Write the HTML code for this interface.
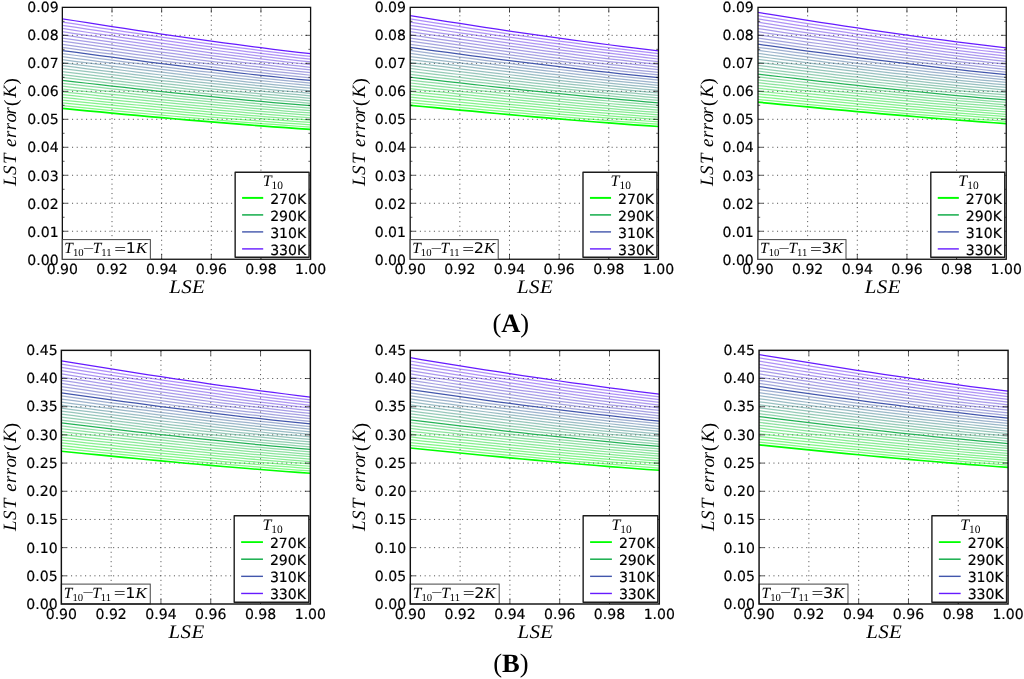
<!DOCTYPE html>
<html lang="en"><head><meta charset="utf-8"><title>LST error vs LSE</title>
<style>html,body{margin:0;padding:0;background:#fff;overflow:hidden;width:1024px;height:679px}svg{display:block}</style>
</head><body>
<svg width="1024" height="679" viewBox="0 0 1024 679" text-rendering="geometricPrecision">
<rect width="1024" height="679" fill="#fff"/>
<g>
<g stroke="#000" stroke-width="0.9" stroke-dasharray="1.1 3.577" fill="none" opacity="0.74"><path d="M112.00 259.25V7.35M161.65 259.25V7.35M211.30 259.25V7.35M260.95 259.25V7.35" stroke-dashoffset="0.3"/><path d="M62.35 231.26H310.60M62.35 203.27H310.60M62.35 175.28H310.60M62.35 147.29H310.60M62.35 119.31H310.60M62.35 91.32H310.60M62.35 63.33H310.60M62.35 35.34H310.60" stroke-dashoffset="-0.3"/></g>
<polyline points="62.35,105.71 74.76,106.92 87.17,108.13 99.59,109.32 112.00,110.51 124.41,111.68 136.82,112.85 149.24,114.00 161.65,115.13 174.06,116.25 186.47,117.35 198.89,118.43 211.30,119.50 223.71,120.54 236.12,121.56 248.54,122.55 260.95,123.52 273.36,124.46 285.78,125.37 298.19,126.25 310.60,127.10" stroke="#03f708" stroke-width="1.25" stroke-opacity="0.5" fill="none"/><polyline points="62.35,102.98 74.76,104.21 87.17,105.43 99.59,106.65 112.00,107.86 124.41,109.06 136.82,110.25 149.24,111.42 161.65,112.58 174.06,113.72 186.47,114.84 198.89,115.94 211.30,117.03 223.71,118.09 236.12,119.13 248.54,120.14 260.95,121.13 273.36,122.09 285.78,123.02 298.19,123.92 310.60,124.78" stroke="#07f011" stroke-width="1.25" stroke-opacity="0.5" fill="none"/><polyline points="62.35,100.22 74.76,101.47 87.17,102.73 99.59,103.97 112.00,105.20 124.41,106.42 136.82,107.63 149.24,108.82 161.65,110.00 174.06,111.17 186.47,112.31 198.89,113.44 211.30,114.54 223.71,115.62 236.12,116.68 248.54,117.71 260.95,118.72 273.36,119.70 285.78,120.65 298.19,121.57 310.60,122.45" stroke="#0ae81a" stroke-width="1.25" stroke-opacity="0.5" fill="none"/><polyline points="62.35,97.44 74.76,98.72 87.17,100.00 99.59,101.26 112.00,102.52 124.41,103.76 136.82,105.00 149.24,106.21 161.65,107.41 174.06,108.60 186.47,109.76 198.89,110.91 211.30,112.04 223.71,113.14 236.12,114.22 248.54,115.27 260.95,116.30 273.36,117.30 285.78,118.27 298.19,119.20 310.60,120.11" stroke="#0ee022" stroke-width="1.25" stroke-opacity="0.5" fill="none"/><polyline points="62.35,94.65 74.76,95.95 87.17,97.25 99.59,98.54 112.00,99.82 124.41,101.09 136.82,102.34 149.24,103.58 161.65,104.81 174.06,106.01 186.47,107.20 198.89,108.37 211.30,109.52 223.71,110.64 236.12,111.74 248.54,112.81 260.95,113.86 273.36,114.88 285.78,115.87 298.19,116.82 310.60,117.75" stroke="#11d82a" stroke-width="1.25" stroke-opacity="0.5" fill="none"/><polyline points="62.35,91.83 74.76,93.16 87.17,94.49 99.59,95.80 112.00,97.11 124.41,98.40 136.82,99.67 149.24,100.94 161.65,102.18 174.06,103.41 186.47,104.62 198.89,105.81 211.30,106.98 223.71,108.12 236.12,109.25 248.54,110.34 260.95,111.41 273.36,112.44 285.78,113.45 298.19,114.43 310.60,115.37" stroke="#14d133" stroke-width="1.25" stroke-opacity="0.5" fill="none"/><polyline points="62.35,89.00 74.76,90.36 87.17,91.71 99.59,93.04 112.00,94.37 124.41,95.69 136.82,96.99 149.24,98.27 161.65,99.54 174.06,100.79 186.47,102.03 198.89,103.24 211.30,104.43 223.71,105.59 236.12,106.73 248.54,107.85 260.95,108.94 273.36,109.99 285.78,111.02 298.19,112.02 310.60,112.98" stroke="#18c93b" stroke-width="1.25" stroke-opacity="0.5" fill="none"/><polyline points="62.35,86.15 74.76,87.53 87.17,88.91 99.59,90.27 112.00,91.62 124.41,92.96 136.82,94.28 149.24,95.59 161.65,96.88 174.06,98.16 186.47,99.41 198.89,100.65 211.30,101.86 223.71,103.04 236.12,104.21 248.54,105.34 260.95,106.45 273.36,107.53 285.78,108.58 298.19,109.59 310.60,110.58" stroke="#1bc144" stroke-width="1.25" stroke-opacity="0.5" fill="none"/><polyline points="62.35,83.28 74.76,84.69 87.17,86.09 99.59,87.48 112.00,88.85 124.41,90.21 136.82,91.56 149.24,92.89 161.65,94.21 174.06,95.51 186.47,96.78 198.89,98.04 211.30,99.27 223.71,100.48 236.12,101.66 248.54,102.82 260.95,103.95 273.36,105.05 285.78,106.12 298.19,107.15 310.60,108.15" stroke="#1fba4c" stroke-width="1.25" stroke-opacity="0.5" fill="none"/><polyline points="62.35,77.49 74.76,78.95 87.17,80.40 99.59,81.83 112.00,83.26 124.41,84.67 136.82,86.07 149.24,87.45 161.65,88.81 174.06,90.15 186.47,91.47 198.89,92.77 211.30,94.05 223.71,95.30 236.12,96.53 248.54,97.73 260.95,98.90 273.36,100.04 285.78,101.14 298.19,102.22 310.60,103.26" stroke="#25a95e" stroke-width="1.25" stroke-opacity="0.5" fill="none"/><polyline points="62.35,74.57 74.76,76.05 87.17,77.52 99.59,78.99 112.00,80.44 124.41,81.87 136.82,83.29 149.24,84.69 161.65,86.08 174.06,87.45 186.47,88.79 198.89,90.11 211.30,91.41 223.71,92.69 236.12,93.93 248.54,95.15 260.95,96.35 273.36,97.51 285.78,98.64 298.19,99.73 310.60,100.79" stroke="#28a066" stroke-width="1.25" stroke-opacity="0.5" fill="none"/><polyline points="62.35,71.62 74.76,73.13 87.17,74.63 99.59,76.12 112.00,77.60 124.41,79.06 136.82,80.50 149.24,81.93 161.65,83.34 174.06,84.72 186.47,86.09 198.89,87.44 211.30,88.76 223.71,90.05 236.12,91.32 248.54,92.57 260.95,93.78 273.36,94.96 285.78,96.11 298.19,97.23 310.60,98.31" stroke="#2c966f" stroke-width="1.25" stroke-opacity="0.5" fill="none"/><polyline points="62.35,68.66 74.76,70.20 87.17,71.72 99.59,73.24 112.00,74.74 124.41,76.22 136.82,77.69 149.24,79.14 161.65,80.57 174.06,81.99 186.47,83.38 198.89,84.75 211.30,86.09 223.71,87.41 236.12,88.70 248.54,89.96 260.95,91.20 273.36,92.40 285.78,93.57 298.19,94.71 310.60,95.81" stroke="#2f8d78" stroke-width="1.25" stroke-opacity="0.5" fill="none"/><polyline points="62.35,65.68 74.76,67.24 87.17,68.80 99.59,70.34 112.00,71.86 124.41,73.37 136.82,74.86 149.24,76.34 161.65,77.80 174.06,79.23 186.47,80.65 198.89,82.04 211.30,83.40 223.71,84.74 236.12,86.06 248.54,87.34 260.95,88.60 273.36,89.82 285.78,91.01 298.19,92.17 310.60,93.29" stroke="#328480" stroke-width="1.25" stroke-opacity="0.5" fill="none"/><polyline points="62.35,62.68 74.76,64.27 87.17,65.85 99.59,67.42 112.00,68.97 124.41,70.50 136.82,72.02 149.24,73.52 161.65,75.00 174.06,76.46 186.47,77.90 198.89,79.31 211.30,80.70 223.71,82.06 236.12,83.40 248.54,84.71 260.95,85.98 273.36,87.23 285.78,88.44 298.19,89.62 310.60,90.76" stroke="#357b89" stroke-width="1.25" stroke-opacity="0.5" fill="none"/><polyline points="62.35,59.67 74.76,61.28 87.17,62.89 99.59,64.48 112.00,66.05 124.41,67.61 136.82,69.16 149.24,70.68 161.65,72.19 174.06,73.67 186.47,75.13 198.89,76.57 211.30,77.98 223.71,79.37 236.12,80.73 248.54,82.05 260.95,83.35 273.36,84.62 285.78,85.85 298.19,87.05 310.60,88.22" stroke="#387292" stroke-width="1.25" stroke-opacity="0.5" fill="none"/><polyline points="62.35,56.63 74.76,58.27 87.17,59.91 99.59,61.52 112.00,63.12 124.41,64.71 136.82,66.28 149.24,67.83 161.65,69.36 174.06,70.86 186.47,72.35 198.89,73.81 211.30,75.25 223.71,76.65 236.12,78.03 248.54,79.39 260.95,80.71 273.36,82.00 285.78,83.25 298.19,84.47 310.60,85.66" stroke="#3c689b" stroke-width="1.25" stroke-opacity="0.5" fill="none"/><polyline points="62.35,53.58 74.76,55.25 87.17,56.91 99.59,58.55 112.00,60.18 124.41,61.79 136.82,63.38 149.24,64.96 161.65,66.51 174.06,68.04 186.47,69.55 198.89,71.03 211.30,72.49 223.71,73.92 236.12,75.33 248.54,76.70 260.95,78.04 273.36,79.35 285.78,80.63 298.19,81.87 310.60,83.08" stroke="#3f5fa3" stroke-width="1.25" stroke-opacity="0.5" fill="none"/><polyline points="62.35,47.41 74.76,49.14 87.17,50.85 99.59,52.55 112.00,54.23 124.41,55.89 136.82,57.54 149.24,59.16 161.65,60.76 174.06,62.34 186.47,63.90 198.89,65.43 211.30,66.94 223.71,68.42 236.12,69.87 248.54,71.28 260.95,72.67 273.36,74.03 285.78,75.35 298.19,76.63 310.60,77.88" stroke="#4650b4" stroke-width="1.25" stroke-opacity="0.5" fill="none"/><polyline points="62.35,44.31 74.76,46.06 87.17,47.80 99.59,49.52 112.00,51.23 124.41,52.92 136.82,54.59 149.24,56.24 161.65,57.86 174.06,59.47 186.47,61.05 198.89,62.61 211.30,64.14 223.71,65.64 236.12,67.11 248.54,68.55 260.95,69.96 273.36,71.34 285.78,72.68 298.19,73.98 310.60,75.25" stroke="#494abd" stroke-width="1.25" stroke-opacity="0.5" fill="none"/><polyline points="62.35,41.18 74.76,42.96 87.17,44.72 99.59,46.47 112.00,48.21 124.41,49.92 136.82,51.62 149.24,53.29 161.65,54.95 174.06,56.58 186.47,58.18 198.89,59.76 211.30,61.32 223.71,62.84 236.12,64.34 248.54,65.80 260.95,67.23 273.36,68.63 285.78,70.00 298.19,71.32 310.60,72.61" stroke="#4d44c5" stroke-width="1.25" stroke-opacity="0.5" fill="none"/><polyline points="62.35,38.03 74.76,39.84 87.17,41.63 99.59,43.41 112.00,45.17 124.41,46.91 136.82,48.64 149.24,50.34 161.65,52.01 174.06,53.67 186.47,55.30 198.89,56.90 211.30,58.48 223.71,60.03 236.12,61.55 248.54,63.04 260.95,64.49 273.36,65.91 285.78,67.30 298.19,68.65 310.60,69.96" stroke="#503ecd" stroke-width="1.25" stroke-opacity="0.5" fill="none"/><polyline points="62.35,34.87 74.76,36.70 87.17,38.52 99.59,40.33 112.00,42.12 124.41,43.89 136.82,45.63 149.24,47.36 161.65,49.06 174.06,50.74 186.47,52.40 198.89,54.03 211.30,55.63 223.71,57.20 236.12,58.74 248.54,60.25 260.95,61.73 273.36,63.18 285.78,64.58 298.19,65.96 310.60,67.29" stroke="#5438d6" stroke-width="1.25" stroke-opacity="0.5" fill="none"/><polyline points="62.35,31.68 74.76,33.55 87.17,35.40 99.59,37.23 112.00,39.04 124.41,40.84 136.82,42.61 149.24,44.37 161.65,46.10 174.06,47.80 186.47,49.48 198.89,51.14 211.30,52.76 223.71,54.36 236.12,55.92 248.54,57.46 260.95,58.96 273.36,60.42 285.78,61.85 298.19,63.25 310.60,64.60" stroke="#5832de" stroke-width="1.25" stroke-opacity="0.5" fill="none"/><polyline points="62.35,28.48 74.76,30.37 87.17,32.25 99.59,34.11 112.00,35.95 124.41,37.78 136.82,39.58 149.24,41.36 161.65,43.11 174.06,44.84 186.47,46.55 198.89,48.23 211.30,49.88 223.71,51.50 236.12,53.09 248.54,54.64 260.95,56.17 273.36,57.66 285.78,59.11 298.19,60.52 310.60,61.90" stroke="#5b2ce6" stroke-width="1.25" stroke-opacity="0.5" fill="none"/><polyline points="62.35,25.26 74.76,27.18 87.17,29.09 99.59,30.98 112.00,32.85 124.41,34.70 136.82,36.52 149.24,38.33 161.65,40.11 174.06,41.87 186.47,43.60 198.89,45.30 211.30,46.97 223.71,48.62 236.12,50.23 248.54,51.81 260.95,53.36 273.36,54.87 285.78,56.35 298.19,57.79 310.60,59.19" stroke="#5f26ee" stroke-width="1.25" stroke-opacity="0.5" fill="none"/><polyline points="62.35,22.02 74.76,23.97 87.17,25.91 99.59,27.82 112.00,29.72 124.41,31.60 136.82,33.45 149.24,35.28 161.65,37.09 174.06,38.87 186.47,40.63 198.89,42.36 211.30,44.06 223.71,45.72 236.12,47.36 248.54,48.97 260.95,50.54 273.36,52.07 285.78,53.57 298.19,55.03 310.60,56.45" stroke="#6220f7" stroke-width="1.25" stroke-opacity="0.5" fill="none"/>
<polyline points="62.35,108.44 74.76,109.62 87.17,110.80 99.59,111.97 112.00,113.13 124.41,114.29 136.82,115.43 149.24,116.55 161.65,117.67 174.06,118.77 186.47,119.85 198.89,120.91 211.30,121.95 223.71,122.97 236.12,123.97 248.54,124.94 260.95,125.89 273.36,126.81 285.78,127.70 298.19,128.56 310.60,129.40" stroke="#00ff00" stroke-width="1.7" fill="none"/><polyline points="62.35,80.40 74.76,81.83 87.17,83.25 99.59,84.66 112.00,86.06 124.41,87.45 136.82,88.82 149.24,90.18 161.65,91.52 174.06,92.84 186.47,94.14 198.89,95.41 211.30,96.67 223.71,97.90 236.12,99.10 248.54,100.28 260.95,101.43 273.36,102.55 285.78,103.64 298.19,104.69 310.60,105.72" stroke="#22b255" stroke-width="1.25" fill="none"/><polyline points="62.35,50.51 74.76,52.20 87.17,53.89 99.59,55.56 112.00,57.21 124.41,58.85 136.82,60.47 149.24,62.07 161.65,63.64 174.06,65.20 186.47,66.73 198.89,68.24 211.30,69.72 223.71,71.18 236.12,72.60 248.54,74.00 260.95,75.37 273.36,76.70 285.78,78.00 298.19,79.26 310.60,80.49" stroke="#4256ac" stroke-width="1.25" fill="none"/><polyline points="62.35,18.77 74.76,20.75 87.17,22.71 99.59,24.65 112.00,26.58 124.41,28.48 136.82,30.36 149.24,32.22 161.65,34.05 174.06,35.86 186.47,37.64 198.89,39.40 211.30,41.12 223.71,42.81 236.12,44.48 248.54,46.10 260.95,47.70 273.36,49.26 285.78,50.78 298.19,52.26 310.60,53.70" stroke="#661aff" stroke-width="1.25" fill="none"/>
<path d="M112.00 259.25v-5.3M112.00 7.35v5.3M161.65 259.25v-5.3M161.65 7.35v5.3M211.30 259.25v-5.3M211.30 7.35v5.3M260.95 259.25v-5.3M260.95 7.35v5.3M62.35 231.26h5.3M310.60 231.26h-5.3M62.35 203.27h5.3M310.60 203.27h-5.3M62.35 175.28h5.3M310.60 175.28h-5.3M62.35 147.29h5.3M310.60 147.29h-5.3M62.35 119.31h5.3M310.60 119.31h-5.3M62.35 91.32h5.3M310.60 91.32h-5.3M62.35 63.33h5.3M310.60 63.33h-5.3M62.35 35.34h5.3M310.60 35.34h-5.3M62.35 245.26h2.2M310.60 245.26h-2.2M62.35 217.27h2.2M310.60 217.27h-2.2M62.35 189.28h2.2M310.60 189.28h-2.2M62.35 161.29h2.2M310.60 161.29h-2.2M62.35 133.30h2.2M310.60 133.30h-2.2M62.35 105.31h2.2M310.60 105.31h-2.2M62.35 77.32h2.2M310.60 77.32h-2.2M62.35 49.33h2.2M310.60 49.33h-2.2M62.35 21.34h2.2M310.60 21.34h-2.2" stroke="#000" stroke-width="0.65" fill="none"/>
<rect x="62.35" y="7.35" width="248.25" height="251.90" fill="none" stroke="#111" stroke-width="1.3"/>
<g font-family="'DejaVu Sans','Liberation Sans',sans-serif" font-size="14.05" fill="#000" stroke="#000" stroke-width="0.18">
<text x="58.60" y="264.65" text-anchor="end">0.00</text>
<text x="58.60" y="236.60" text-anchor="end">0.01</text>
<text x="58.60" y="208.55" text-anchor="end">0.02</text>
<text x="58.60" y="180.50" text-anchor="end">0.03</text>
<text x="58.60" y="152.45" text-anchor="end">0.04</text>
<text x="58.60" y="124.40" text-anchor="end">0.05</text>
<text x="58.60" y="96.35" text-anchor="end">0.06</text>
<text x="58.60" y="68.30" text-anchor="end">0.07</text>
<text x="58.60" y="40.25" text-anchor="end">0.08</text>
<text x="58.60" y="12.20" text-anchor="end">0.09</text>
<text x="62.35" y="274.30" text-anchor="middle">0.90</text>
<text x="112.00" y="274.30" text-anchor="middle">0.92</text>
<text x="161.65" y="274.30" text-anchor="middle">0.94</text>
<text x="211.30" y="274.30" text-anchor="middle">0.96</text>
<text x="260.95" y="274.30" text-anchor="middle">0.98</text>
<text x="310.60" y="274.30" text-anchor="middle">1.00</text>
</g>
<text transform="translate(187.17 293.40) scale(1.085 1)" text-anchor="middle" font-family="'Liberation Serif','DejaVu Serif',serif" font-style="italic" font-size="19.3" letter-spacing="0.35">LSE</text>
<text transform="translate(16.15 186.00) rotate(-90)" font-family="'Liberation Serif','DejaVu Serif',serif" font-style="italic" font-size="18.8"><tspan x="0 11 22">LST</tspan> <tspan x="39.1 47.9 55.7 63.5 71.6">error</tspan><tspan x="79.9" dy="1.2" font-style="normal">(</tspan><tspan x="88.3" dy="-1.2">K</tspan><tspan x="101.6" dy="1.2" font-style="normal">)</tspan></text>
<rect x="62.35" y="239.60" width="88.0" height="19.65" fill="#fff" stroke="#444" stroke-width="1.0"/>
<text x="64.35" y="253.00" font-family="'Liberation Serif','DejaVu Serif',serif" font-style="italic" font-size="15.5">T<tspan font-style="normal" font-size="10.7" dy="3.4">10</tspan><tspan font-style="normal" font-family="'DejaVu Sans Light','DejaVu Sans',sans-serif" font-weight="200" font-size="15" dy="-3.7" dx="-1.5">−</tspan><tspan dx="-2.0" dy="0.3">T</tspan><tspan font-style="normal" font-size="10.7" dy="3.4">11</tspan></text>
<text transform="translate(120.25 253.60) scale(1.4 1)" text-anchor="middle" font-family="'Liberation Serif','DejaVu Serif',serif" font-size="15">=</text>
<text transform="translate(125.85 253.00) scale(1.1 1)" font-family="'DejaVu Sans','Liberation Sans',sans-serif" font-size="14.6">1</text>
<text transform="translate(135.85 253.00) scale(1.13 1)" font-family="'Liberation Serif','DejaVu Serif',serif" font-style="italic" font-size="15.2">K</text>
<rect x="235.15" y="172.20" width="73.95" height="85.10" fill="#fff" stroke="#1c1c1c" stroke-width="1.4" stroke-linejoin="round"/>
<text x="262.70" y="185.80" font-family="'Liberation Serif','DejaVu Serif',serif" font-style="italic" font-size="16">T<tspan font-style="normal" font-size="11.4" dy="3.4">10</tspan></text>
<path d="M242.10 197.90H263.20" stroke="#00ff00" stroke-width="1.95"/>
<text x="270.20" y="203.65" font-family="'DejaVu Sans','Liberation Sans',sans-serif" font-size="14.05" stroke="#000" stroke-width="0.18">270K</text>
<path d="M242.10 214.90H263.20" stroke="#22b255" stroke-width="1.6"/>
<text x="270.20" y="220.65" font-family="'DejaVu Sans','Liberation Sans',sans-serif" font-size="14.05" stroke="#000" stroke-width="0.18">290K</text>
<path d="M242.10 231.90H263.20" stroke="#4256ac" stroke-width="1.4"/>
<text x="270.20" y="237.65" font-family="'DejaVu Sans','Liberation Sans',sans-serif" font-size="14.05" stroke="#000" stroke-width="0.18">310K</text>
<path d="M242.10 248.90H263.20" stroke="#661aff" stroke-width="1.4"/>
<text x="270.20" y="254.65" font-family="'DejaVu Sans','Liberation Sans',sans-serif" font-size="14.05" stroke="#000" stroke-width="0.18">330K</text>
</g>
<g>
<g stroke="#000" stroke-width="0.9" stroke-dasharray="1.1 3.577" fill="none" opacity="0.74"><path d="M459.85 259.25V7.35M509.50 259.25V7.35M559.15 259.25V7.35M608.80 259.25V7.35" stroke-dashoffset="0.3"/><path d="M410.20 231.26H658.45M410.20 203.27H658.45M410.20 175.28H658.45M410.20 147.29H658.45M410.20 119.31H658.45M410.20 91.32H658.45M410.20 63.33H658.45M410.20 35.34H658.45" stroke-dashoffset="-0.3"/></g>
<polyline points="410.20,102.56 422.61,103.79 435.02,105.00 447.44,106.21 459.85,107.41 472.26,108.60 484.67,109.77 497.09,110.94 509.50,112.08 521.91,113.22 534.33,114.33 546.74,115.43 559.15,116.50 571.56,117.55 583.98,118.58 596.39,119.59 608.80,120.57 621.21,121.52 633.62,122.44 646.04,123.34 658.45,124.20" stroke="#03f708" stroke-width="1.25" stroke-opacity="0.5" fill="none"/><polyline points="410.20,99.83 422.61,101.07 435.02,102.31 447.44,103.54 459.85,104.76 472.26,105.98 484.67,107.17 497.09,108.36 509.50,109.53 521.91,110.68 534.33,111.82 546.74,112.94 559.15,114.03 571.56,115.10 583.98,116.16 596.39,117.18 608.80,118.18 621.21,119.15 633.62,120.09 646.04,121.00 658.45,121.88" stroke="#07f011" stroke-width="1.25" stroke-opacity="0.5" fill="none"/><polyline points="410.20,97.07 422.61,98.34 435.02,99.60 447.44,100.86 459.85,102.10 472.26,103.34 484.67,104.56 497.09,105.77 509.50,106.96 521.91,108.13 534.33,109.29 546.74,110.43 559.15,111.54 571.56,112.64 583.98,113.71 596.39,114.75 608.80,115.77 621.21,116.76 633.62,117.73 646.04,118.66 658.45,119.55" stroke="#0ae81a" stroke-width="1.25" stroke-opacity="0.5" fill="none"/><polyline points="410.20,94.29 422.61,95.59 435.02,96.87 447.44,98.15 459.85,99.42 472.26,100.68 484.67,101.92 497.09,103.15 509.50,104.37 521.91,105.57 534.33,106.74 546.74,107.90 559.15,109.04 571.56,110.16 583.98,111.25 596.39,112.31 608.80,113.35 621.21,114.36 633.62,115.34 646.04,116.29 658.45,117.21" stroke="#0ee022" stroke-width="1.25" stroke-opacity="0.5" fill="none"/><polyline points="410.20,91.50 422.61,92.82 435.02,94.13 447.44,95.43 459.85,96.72 472.26,98.00 484.67,99.27 497.09,100.52 509.50,101.76 521.91,102.98 534.33,104.18 546.74,105.36 559.15,106.52 571.56,107.66 583.98,108.77 596.39,109.85 608.80,110.91 621.21,111.94 633.62,112.94 646.04,113.91 658.45,114.85" stroke="#11d82a" stroke-width="1.25" stroke-opacity="0.5" fill="none"/><polyline points="410.20,88.68 422.61,90.03 435.02,91.36 447.44,92.69 459.85,94.01 472.26,95.31 484.67,96.60 497.09,97.88 509.50,99.14 521.91,100.38 534.33,101.60 546.74,102.80 559.15,103.98 571.56,105.14 583.98,106.27 596.39,107.38 608.80,108.46 621.21,109.51 633.62,110.53 646.04,111.52 658.45,112.47" stroke="#14d133" stroke-width="1.25" stroke-opacity="0.5" fill="none"/><polyline points="410.20,85.85 422.61,87.22 435.02,88.58 447.44,89.93 459.85,91.27 472.26,92.60 484.67,93.92 497.09,95.21 509.50,96.50 521.91,97.76 534.33,99.01 546.74,100.23 559.15,101.43 571.56,102.61 583.98,103.76 596.39,104.89 608.80,105.99 621.21,107.06 633.62,108.10 646.04,109.11 658.45,110.08" stroke="#18c93b" stroke-width="1.25" stroke-opacity="0.5" fill="none"/><polyline points="410.20,83.00 422.61,84.40 435.02,85.78 447.44,87.16 459.85,88.52 472.26,89.87 484.67,91.21 497.09,92.53 509.50,93.84 521.91,95.12 534.33,96.39 546.74,97.64 559.15,98.86 571.56,100.06 583.98,101.23 596.39,102.38 608.80,103.50 621.21,104.59 633.62,105.65 646.04,106.68 658.45,107.68" stroke="#1bc144" stroke-width="1.25" stroke-opacity="0.5" fill="none"/><polyline points="410.20,80.13 422.61,81.55 435.02,82.96 447.44,84.37 459.85,85.75 472.26,87.13 484.67,88.49 497.09,89.84 509.50,91.16 521.91,92.47 534.33,93.76 546.74,95.03 559.15,96.27 571.56,97.50 583.98,98.69 596.39,99.86 608.80,101.00 621.21,102.11 633.62,103.19 646.04,104.24 658.45,105.25" stroke="#1fba4c" stroke-width="1.25" stroke-opacity="0.5" fill="none"/><polyline points="410.20,74.34 422.61,75.81 435.02,77.27 447.44,78.72 459.85,80.16 472.26,81.59 484.67,82.99 497.09,84.39 509.50,85.76 521.91,87.12 534.33,88.45 546.74,89.76 559.15,91.05 571.56,92.32 583.98,93.55 596.39,94.77 608.80,95.95 621.21,97.10 633.62,98.22 646.04,99.31 658.45,100.36" stroke="#25a95e" stroke-width="1.25" stroke-opacity="0.5" fill="none"/><polyline points="410.20,71.42 422.61,72.91 435.02,74.40 447.44,75.88 459.85,77.34 472.26,78.79 484.67,80.22 497.09,81.64 509.50,83.03 521.91,84.41 534.33,85.77 546.74,87.10 559.15,88.42 571.56,89.70 583.98,90.96 596.39,92.19 608.80,93.40 621.21,94.57 633.62,95.71 646.04,96.82 658.45,97.89" stroke="#28a066" stroke-width="1.25" stroke-opacity="0.5" fill="none"/><polyline points="410.20,68.47 422.61,70.00 435.02,71.51 447.44,73.01 459.85,74.50 472.26,75.97 484.67,77.43 497.09,78.87 509.50,80.29 521.91,81.69 534.33,83.07 546.74,84.43 559.15,85.76 571.56,87.07 583.98,88.35 596.39,89.61 608.80,90.83 621.21,92.03 633.62,93.19 646.04,94.32 658.45,95.41" stroke="#2c966f" stroke-width="1.25" stroke-opacity="0.5" fill="none"/><polyline points="410.20,65.51 422.61,67.06 435.02,68.60 447.44,70.13 459.85,71.64 472.26,73.14 484.67,74.62 497.09,76.08 509.50,77.53 521.91,78.95 534.33,80.36 546.74,81.74 559.15,83.09 571.56,84.42 583.98,85.73 596.39,87.00 608.80,88.25 621.21,89.46 633.62,90.65 646.04,91.80 658.45,92.91" stroke="#2f8d78" stroke-width="1.25" stroke-opacity="0.5" fill="none"/><polyline points="410.20,62.53 422.61,64.11 435.02,65.67 447.44,67.23 459.85,68.76 472.26,70.29 484.67,71.79 497.09,73.28 509.50,74.75 521.91,76.20 534.33,77.62 546.74,79.03 559.15,80.41 571.56,81.76 583.98,83.09 596.39,84.38 608.80,85.65 621.21,86.89 633.62,88.09 646.04,89.26 658.45,90.39" stroke="#328480" stroke-width="1.25" stroke-opacity="0.5" fill="none"/><polyline points="410.20,59.53 422.61,61.14 435.02,62.73 447.44,64.31 459.85,65.87 472.26,67.42 484.67,68.95 497.09,70.46 509.50,71.95 521.91,73.43 534.33,74.88 546.74,76.30 559.15,77.70 571.56,79.08 583.98,80.43 596.39,81.75 608.80,83.04 621.21,84.29 633.62,85.52 646.04,86.71 658.45,87.86" stroke="#357b89" stroke-width="1.25" stroke-opacity="0.5" fill="none"/><polyline points="410.20,56.52 422.61,58.15 435.02,59.76 447.44,61.37 459.85,62.96 472.26,64.53 484.67,66.09 497.09,67.62 509.50,69.14 521.91,70.64 534.33,72.11 546.74,73.56 559.15,74.99 571.56,76.38 583.98,77.75 596.39,79.10 608.80,80.41 621.21,81.68 633.62,82.93 646.04,84.14 658.45,85.32" stroke="#387292" stroke-width="1.25" stroke-opacity="0.5" fill="none"/><polyline points="410.20,53.48 422.61,55.14 435.02,56.78 447.44,58.41 459.85,60.03 472.26,61.63 484.67,63.21 497.09,64.77 509.50,66.31 521.91,67.83 534.33,69.33 546.74,70.80 559.15,72.25 571.56,73.67 583.98,75.06 596.39,76.43 608.80,77.76 621.21,79.06 633.62,80.33 646.04,81.56 658.45,82.76" stroke="#3c689b" stroke-width="1.25" stroke-opacity="0.5" fill="none"/><polyline points="410.20,50.43 422.61,52.11 435.02,53.78 447.44,55.44 459.85,57.08 472.26,58.70 484.67,60.31 497.09,61.90 509.50,63.46 521.91,65.01 534.33,66.53 546.74,68.03 559.15,69.50 571.56,70.94 583.98,72.36 596.39,73.74 608.80,75.10 621.21,76.42 633.62,77.71 646.04,78.96 658.45,80.18" stroke="#3f5fa3" stroke-width="1.25" stroke-opacity="0.5" fill="none"/><polyline points="410.20,44.26 422.61,46.00 435.02,47.73 447.44,49.44 459.85,51.13 472.26,52.81 484.67,54.46 497.09,56.10 509.50,57.72 521.91,59.31 534.33,60.88 546.74,62.42 559.15,63.94 571.56,65.43 583.98,66.89 596.39,68.32 608.80,69.72 621.21,71.09 633.62,72.42 646.04,73.72 658.45,74.98" stroke="#4650b4" stroke-width="1.25" stroke-opacity="0.5" fill="none"/><polyline points="410.20,41.16 422.61,42.92 435.02,44.67 447.44,46.41 459.85,48.13 472.26,49.83 484.67,51.51 497.09,53.18 509.50,54.82 521.91,56.44 534.33,58.03 546.74,59.60 559.15,61.14 571.56,62.65 583.98,64.14 596.39,65.59 608.80,67.01 621.21,68.40 633.62,69.76 646.04,71.07 658.45,72.35" stroke="#494abd" stroke-width="1.25" stroke-opacity="0.5" fill="none"/><polyline points="410.20,38.03 422.61,39.82 435.02,41.60 447.44,43.36 459.85,45.11 472.26,46.84 484.67,48.55 497.09,50.24 509.50,51.90 521.91,53.54 534.33,55.16 546.74,56.76 559.15,58.32 571.56,59.86 583.98,61.37 596.39,62.84 608.80,64.29 621.21,65.70 633.62,67.07 646.04,68.41 658.45,69.71" stroke="#4d44c5" stroke-width="1.25" stroke-opacity="0.5" fill="none"/><polyline points="410.20,34.88 422.61,36.70 435.02,38.51 447.44,40.30 459.85,42.07 472.26,43.83 484.67,45.56 497.09,47.28 509.50,48.97 521.91,50.64 534.33,52.28 546.74,53.90 559.15,55.49 571.56,57.05 583.98,58.58 596.39,60.08 608.80,61.54 621.21,62.98 633.62,64.37 646.04,65.74 658.45,67.06" stroke="#503ecd" stroke-width="1.25" stroke-opacity="0.5" fill="none"/><polyline points="410.20,31.72 422.61,33.57 435.02,35.40 447.44,37.22 459.85,39.02 472.26,40.80 484.67,42.56 497.09,44.30 509.50,46.02 521.91,47.71 534.33,49.38 546.74,51.02 559.15,52.63 571.56,54.22 583.98,55.77 596.39,57.30 608.80,58.79 621.21,60.24 633.62,61.66 646.04,63.04 658.45,64.39" stroke="#5438d6" stroke-width="1.25" stroke-opacity="0.5" fill="none"/><polyline points="410.20,28.53 422.61,30.41 435.02,32.27 447.44,34.12 459.85,35.95 472.26,37.75 484.67,39.54 497.09,41.31 509.50,43.05 521.91,44.77 534.33,46.46 546.74,48.13 559.15,49.77 571.56,51.37 583.98,52.95 596.39,54.50 608.80,56.01 621.21,57.49 633.62,58.93 646.04,60.34 658.45,61.70" stroke="#5832de" stroke-width="1.25" stroke-opacity="0.5" fill="none"/><polyline points="410.20,25.33 422.61,27.24 435.02,29.13 447.44,31.00 459.85,32.86 472.26,34.69 484.67,36.51 497.09,38.30 509.50,40.07 521.91,41.81 534.33,43.53 546.74,45.22 559.15,46.88 571.56,48.51 583.98,50.11 596.39,51.68 608.80,53.22 621.21,54.72 633.62,56.19 646.04,57.61 658.45,59.00" stroke="#5b2ce6" stroke-width="1.25" stroke-opacity="0.5" fill="none"/><polyline points="410.20,22.11 422.61,24.05 435.02,25.97 447.44,27.87 459.85,29.75 472.26,31.61 484.67,33.45 497.09,35.27 509.50,37.06 521.91,38.83 534.33,40.58 546.74,42.29 559.15,43.98 571.56,45.63 583.98,47.26 596.39,48.85 608.80,50.41 621.21,51.94 633.62,53.42 646.04,54.87 658.45,56.29" stroke="#5f26ee" stroke-width="1.25" stroke-opacity="0.5" fill="none"/><polyline points="410.20,18.87 422.61,20.84 435.02,22.78 447.44,24.71 459.85,26.62 472.26,28.51 484.67,30.38 497.09,32.22 509.50,34.04 521.91,35.84 534.33,37.61 546.74,39.35 559.15,41.06 571.56,42.74 583.98,44.39 596.39,46.01 608.80,47.59 621.21,49.14 633.62,50.65 646.04,52.12 658.45,53.55" stroke="#6220f7" stroke-width="1.25" stroke-opacity="0.5" fill="none"/>
<polyline points="410.20,105.29 422.61,106.48 435.02,107.68 447.44,108.86 459.85,110.04 472.26,111.20 484.67,112.36 497.09,113.50 509.50,114.62 521.91,115.73 534.33,116.83 546.74,117.90 559.15,118.96 571.56,119.99 583.98,121.00 596.39,121.98 608.80,122.94 621.21,123.88 633.62,124.78 646.04,125.65 658.45,126.50" stroke="#00ff00" stroke-width="1.7" fill="none"/><polyline points="410.20,77.25 422.61,78.69 435.02,80.13 447.44,81.55 459.85,82.97 472.26,84.37 484.67,85.75 497.09,87.12 509.50,88.47 521.91,89.80 534.33,91.11 546.74,92.40 559.15,93.67 571.56,94.91 583.98,96.13 596.39,97.32 608.80,98.48 621.21,99.61 633.62,100.71 646.04,101.78 658.45,102.82" stroke="#22b255" stroke-width="1.25" fill="none"/><polyline points="410.20,47.36 422.61,49.07 435.02,50.76 447.44,52.45 459.85,54.11 472.26,55.76 484.67,57.40 497.09,59.01 509.50,60.60 521.91,62.17 534.33,63.71 546.74,65.23 559.15,66.73 571.56,68.19 583.98,69.63 596.39,71.04 608.80,72.42 621.21,73.76 633.62,75.07 646.04,76.35 658.45,77.59" stroke="#4256ac" stroke-width="1.25" fill="none"/><polyline points="410.20,15.62 422.61,17.61 435.02,19.58 447.44,21.54 459.85,23.48 472.26,25.40 484.67,27.29 497.09,29.16 509.50,31.01 521.91,32.83 534.33,34.62 546.74,36.39 559.15,38.12 571.56,39.83 583.98,41.50 596.39,43.14 608.80,44.75 621.21,46.32 633.62,47.85 646.04,49.35 658.45,50.81" stroke="#661aff" stroke-width="1.25" fill="none"/>
<path d="M459.85 259.25v-5.3M459.85 7.35v5.3M509.50 259.25v-5.3M509.50 7.35v5.3M559.15 259.25v-5.3M559.15 7.35v5.3M608.80 259.25v-5.3M608.80 7.35v5.3M410.20 231.26h5.3M658.45 231.26h-5.3M410.20 203.27h5.3M658.45 203.27h-5.3M410.20 175.28h5.3M658.45 175.28h-5.3M410.20 147.29h5.3M658.45 147.29h-5.3M410.20 119.31h5.3M658.45 119.31h-5.3M410.20 91.32h5.3M658.45 91.32h-5.3M410.20 63.33h5.3M658.45 63.33h-5.3M410.20 35.34h5.3M658.45 35.34h-5.3M410.20 245.26h2.2M658.45 245.26h-2.2M410.20 217.27h2.2M658.45 217.27h-2.2M410.20 189.28h2.2M658.45 189.28h-2.2M410.20 161.29h2.2M658.45 161.29h-2.2M410.20 133.30h2.2M658.45 133.30h-2.2M410.20 105.31h2.2M658.45 105.31h-2.2M410.20 77.32h2.2M658.45 77.32h-2.2M410.20 49.33h2.2M658.45 49.33h-2.2M410.20 21.34h2.2M658.45 21.34h-2.2" stroke="#000" stroke-width="0.65" fill="none"/>
<rect x="410.20" y="7.35" width="248.25" height="251.90" fill="none" stroke="#111" stroke-width="1.3"/>
<g font-family="'DejaVu Sans','Liberation Sans',sans-serif" font-size="14.05" fill="#000" stroke="#000" stroke-width="0.18">
<text x="406.00" y="264.65" text-anchor="end">0.00</text>
<text x="406.00" y="236.60" text-anchor="end">0.01</text>
<text x="406.00" y="208.55" text-anchor="end">0.02</text>
<text x="406.00" y="180.50" text-anchor="end">0.03</text>
<text x="406.00" y="152.45" text-anchor="end">0.04</text>
<text x="406.00" y="124.40" text-anchor="end">0.05</text>
<text x="406.00" y="96.35" text-anchor="end">0.06</text>
<text x="406.00" y="68.30" text-anchor="end">0.07</text>
<text x="406.00" y="40.25" text-anchor="end">0.08</text>
<text x="406.00" y="12.20" text-anchor="end">0.09</text>
<text x="410.20" y="274.30" text-anchor="middle">0.90</text>
<text x="459.85" y="274.30" text-anchor="middle">0.92</text>
<text x="509.50" y="274.30" text-anchor="middle">0.94</text>
<text x="559.15" y="274.30" text-anchor="middle">0.96</text>
<text x="608.80" y="274.30" text-anchor="middle">0.98</text>
<text x="658.45" y="274.30" text-anchor="middle">1.00</text>
</g>
<text transform="translate(535.03 293.40) scale(1.085 1)" text-anchor="middle" font-family="'Liberation Serif','DejaVu Serif',serif" font-style="italic" font-size="19.3" letter-spacing="0.35">LSE</text>
<text transform="translate(364.70 186.00) rotate(-90)" font-family="'Liberation Serif','DejaVu Serif',serif" font-style="italic" font-size="18.8"><tspan x="0 11 22">LST</tspan> <tspan x="39.1 47.9 55.7 63.5 71.6">error</tspan><tspan x="79.9" dy="1.2" font-style="normal">(</tspan><tspan x="88.3" dy="-1.2">K</tspan><tspan x="101.6" dy="1.2" font-style="normal">)</tspan></text>
<rect x="410.20" y="239.60" width="88.0" height="19.65" fill="#fff" stroke="#444" stroke-width="1.0"/>
<text x="412.20" y="253.00" font-family="'Liberation Serif','DejaVu Serif',serif" font-style="italic" font-size="15.5">T<tspan font-style="normal" font-size="10.7" dy="3.4">10</tspan><tspan font-style="normal" font-family="'DejaVu Sans Light','DejaVu Sans',sans-serif" font-weight="200" font-size="15" dy="-3.7" dx="-1.5">−</tspan><tspan dx="-2.0" dy="0.3">T</tspan><tspan font-style="normal" font-size="10.7" dy="3.4">11</tspan></text>
<text transform="translate(468.10 253.60) scale(1.4 1)" text-anchor="middle" font-family="'Liberation Serif','DejaVu Serif',serif" font-size="15">=</text>
<text transform="translate(473.70 253.00) scale(1.1 1)" font-family="'DejaVu Sans','Liberation Sans',sans-serif" font-size="14.6">2</text>
<text transform="translate(483.70 253.00) scale(1.13 1)" font-family="'Liberation Serif','DejaVu Serif',serif" font-style="italic" font-size="15.2">K</text>
<rect x="583.00" y="172.20" width="73.95" height="85.10" fill="#fff" stroke="#1c1c1c" stroke-width="1.4" stroke-linejoin="round"/>
<text x="610.55" y="185.80" font-family="'Liberation Serif','DejaVu Serif',serif" font-style="italic" font-size="16">T<tspan font-style="normal" font-size="11.4" dy="3.4">10</tspan></text>
<path d="M589.95 197.90H611.05" stroke="#00ff00" stroke-width="1.95"/>
<text x="618.05" y="203.65" font-family="'DejaVu Sans','Liberation Sans',sans-serif" font-size="14.05" stroke="#000" stroke-width="0.18">270K</text>
<path d="M589.95 214.90H611.05" stroke="#22b255" stroke-width="1.6"/>
<text x="618.05" y="220.65" font-family="'DejaVu Sans','Liberation Sans',sans-serif" font-size="14.05" stroke="#000" stroke-width="0.18">290K</text>
<path d="M589.95 231.90H611.05" stroke="#4256ac" stroke-width="1.4"/>
<text x="618.05" y="237.65" font-family="'DejaVu Sans','Liberation Sans',sans-serif" font-size="14.05" stroke="#000" stroke-width="0.18">310K</text>
<path d="M589.95 248.90H611.05" stroke="#661aff" stroke-width="1.4"/>
<text x="618.05" y="254.65" font-family="'DejaVu Sans','Liberation Sans',sans-serif" font-size="14.05" stroke="#000" stroke-width="0.18">330K</text>
</g>
<g>
<g stroke="#000" stroke-width="0.9" stroke-dasharray="1.1 3.577" fill="none" opacity="0.74"><path d="M807.65 259.25V7.35M857.30 259.25V7.35M906.95 259.25V7.35M956.60 259.25V7.35" stroke-dashoffset="0.3"/><path d="M758.00 231.26H1006.25M758.00 203.27H1006.25M758.00 175.28H1006.25M758.00 147.29H1006.25M758.00 119.31H1006.25M758.00 91.32H1006.25M758.00 63.33H1006.25M758.00 35.34H1006.25" stroke-dashoffset="-0.3"/></g>
<polyline points="758.00,99.41 770.41,100.65 782.83,101.88 795.24,103.10 807.65,104.31 820.06,105.51 832.48,106.70 844.89,107.88 857.30,109.04 869.71,110.18 882.12,111.31 894.54,112.42 906.95,113.51 919.36,114.57 931.77,115.61 944.19,116.63 956.60,117.62 969.01,118.59 981.42,119.52 993.84,120.42 1006.25,121.30" stroke="#03f708" stroke-width="1.25" stroke-opacity="0.5" fill="none"/><polyline points="758.00,96.68 770.41,97.93 782.83,99.19 795.24,100.43 807.65,101.67 820.06,102.89 832.48,104.10 844.89,105.30 857.30,106.48 869.71,107.65 882.12,108.80 894.54,109.93 906.95,111.04 919.36,112.12 931.77,113.18 944.19,114.22 956.60,115.23 969.01,116.22 981.42,117.17 993.84,118.09 1006.25,118.98" stroke="#07f011" stroke-width="1.25" stroke-opacity="0.5" fill="none"/><polyline points="758.00,93.92 770.41,95.20 782.83,96.48 795.24,97.75 807.65,99.01 820.06,100.25 832.48,101.49 844.89,102.71 857.30,103.91 869.71,105.10 882.12,106.27 894.54,107.42 906.95,108.55 919.36,109.65 931.77,110.74 944.19,111.80 956.60,112.83 969.01,113.83 981.42,114.80 993.84,115.74 1006.25,116.65" stroke="#0ae81a" stroke-width="1.25" stroke-opacity="0.5" fill="none"/><polyline points="758.00,91.14 770.41,92.45 782.83,93.75 795.24,95.04 807.65,96.33 820.06,97.60 832.48,98.85 844.89,100.10 857.30,101.32 869.71,102.53 882.12,103.72 894.54,104.89 906.95,106.04 919.36,107.17 931.77,108.28 944.19,109.35 956.60,110.40 969.01,111.43 981.42,112.42 993.84,113.38 1006.25,114.31" stroke="#0ee022" stroke-width="1.25" stroke-opacity="0.5" fill="none"/><polyline points="758.00,88.35 770.41,89.68 782.83,91.01 795.24,92.32 807.65,93.63 820.06,94.92 832.48,96.20 844.89,97.47 857.30,98.72 869.71,99.95 882.12,101.16 894.54,102.35 906.95,103.52 919.36,104.67 931.77,105.80 944.19,106.90 956.60,107.97 969.01,109.01 981.42,110.02 993.84,111.00 1006.25,111.95" stroke="#11d82a" stroke-width="1.25" stroke-opacity="0.5" fill="none"/><polyline points="758.00,85.53 770.41,86.89 782.83,88.24 795.24,89.58 807.65,90.91 820.06,92.23 832.48,93.53 844.89,94.82 857.30,96.09 869.71,97.35 882.12,98.58 894.54,99.80 906.95,100.99 919.36,102.16 931.77,103.30 944.19,104.42 956.60,105.51 969.01,106.57 981.42,107.61 993.84,108.61 1006.25,109.57" stroke="#14d133" stroke-width="1.25" stroke-opacity="0.5" fill="none"/><polyline points="758.00,82.70 770.41,84.08 782.83,85.46 795.24,86.82 807.65,88.18 820.06,89.52 832.48,90.84 844.89,92.16 857.30,93.45 869.71,94.73 882.12,95.98 894.54,97.22 906.95,98.43 919.36,99.63 931.77,100.79 944.19,101.93 956.60,103.04 969.01,104.12 981.42,105.18 993.84,106.20 1006.25,107.18" stroke="#18c93b" stroke-width="1.25" stroke-opacity="0.5" fill="none"/><polyline points="758.00,79.85 770.41,81.26 782.83,82.66 795.24,84.05 807.65,85.43 820.06,86.79 832.48,88.14 844.89,89.48 857.30,90.79 869.71,92.09 882.12,93.37 894.54,94.63 906.95,95.86 919.36,97.08 931.77,98.26 944.19,99.42 956.60,100.56 969.01,101.66 981.42,102.73 993.84,103.77 1006.25,104.78" stroke="#1bc144" stroke-width="1.25" stroke-opacity="0.5" fill="none"/><polyline points="758.00,76.98 770.41,78.42 782.83,79.84 795.24,81.25 807.65,82.66 820.06,84.04 832.48,85.42 844.89,86.78 857.30,88.12 869.71,89.44 882.12,90.74 894.54,92.02 906.95,93.28 919.36,94.51 931.77,95.72 944.19,96.90 956.60,98.05 969.01,99.18 981.42,100.27 993.84,101.33 1006.25,102.35" stroke="#1fba4c" stroke-width="1.25" stroke-opacity="0.5" fill="none"/><polyline points="758.00,71.19 770.41,72.67 782.83,74.15 795.24,75.61 807.65,77.06 820.06,78.50 832.48,79.92 844.89,81.33 857.30,82.71 869.71,84.08 882.12,85.43 894.54,86.75 906.95,88.06 919.36,89.33 931.77,90.58 944.19,91.81 956.60,93.00 969.01,94.16 981.42,95.30 993.84,96.40 1006.25,97.46" stroke="#25a95e" stroke-width="1.25" stroke-opacity="0.5" fill="none"/><polyline points="758.00,68.27 770.41,69.78 782.83,71.28 795.24,72.77 807.65,74.24 820.06,75.70 832.48,77.15 844.89,78.58 857.30,79.99 869.71,81.38 882.12,82.75 894.54,84.10 906.95,85.42 919.36,86.72 931.77,87.99 944.19,89.24 956.60,90.45 969.01,91.64 981.42,92.79 993.84,93.91 1006.25,94.99" stroke="#28a066" stroke-width="1.25" stroke-opacity="0.5" fill="none"/><polyline points="758.00,65.32 770.41,66.86 782.83,68.39 795.24,69.90 807.65,71.40 820.06,72.89 832.48,74.36 844.89,75.81 857.30,77.24 869.71,78.66 882.12,80.05 894.54,81.42 906.95,82.77 919.36,84.09 931.77,85.38 944.19,86.65 956.60,87.88 969.01,89.09 981.42,90.26 993.84,91.40 1006.25,92.51" stroke="#2c966f" stroke-width="1.25" stroke-opacity="0.5" fill="none"/><polyline points="758.00,62.36 770.41,63.92 782.83,65.48 795.24,67.02 807.65,68.54 820.06,70.05 832.48,71.55 844.89,73.02 857.30,74.48 869.71,75.92 882.12,77.34 894.54,78.73 906.95,80.10 919.36,81.44 931.77,82.76 944.19,84.04 956.60,85.30 969.01,86.53 981.42,87.72 993.84,88.88 1006.25,90.01" stroke="#2f8d78" stroke-width="1.25" stroke-opacity="0.5" fill="none"/><polyline points="758.00,59.38 770.41,60.97 782.83,62.55 795.24,64.11 807.65,65.67 820.06,67.20 832.48,68.72 844.89,70.22 857.30,71.70 869.71,73.16 882.12,74.60 894.54,76.02 906.95,77.41 919.36,78.78 931.77,80.11 944.19,81.42 956.60,82.70 969.01,83.95 981.42,85.17 993.84,86.35 1006.25,87.49" stroke="#328480" stroke-width="1.25" stroke-opacity="0.5" fill="none"/><polyline points="758.00,56.38 770.41,58.00 782.83,59.60 795.24,61.20 807.65,62.77 820.06,64.33 832.48,65.88 844.89,67.40 857.30,68.91 869.71,70.39 882.12,71.86 894.54,73.29 906.95,74.71 919.36,76.10 931.77,77.46 944.19,78.79 956.60,80.09 969.01,81.36 981.42,82.59 993.84,83.80 1006.25,84.96" stroke="#357b89" stroke-width="1.25" stroke-opacity="0.5" fill="none"/><polyline points="758.00,53.37 770.41,55.01 782.83,56.64 795.24,58.26 807.65,59.86 820.06,61.45 832.48,63.01 844.89,64.56 857.30,66.09 869.71,67.60 882.12,69.09 894.54,70.55 906.95,71.99 919.36,73.40 931.77,74.78 944.19,76.14 956.60,77.46 969.01,78.75 981.42,80.01 993.84,81.23 1006.25,82.42" stroke="#387292" stroke-width="1.25" stroke-opacity="0.5" fill="none"/><polyline points="758.00,50.33 770.41,52.00 782.83,53.66 795.24,55.30 807.65,56.93 820.06,58.54 832.48,60.14 844.89,61.71 857.30,63.26 869.71,64.80 882.12,66.31 894.54,67.79 906.95,69.25 919.36,70.69 931.77,72.09 944.19,73.47 956.60,74.81 969.01,76.12 981.42,77.40 993.84,78.65 1006.25,79.86" stroke="#3c689b" stroke-width="1.25" stroke-opacity="0.5" fill="none"/><polyline points="758.00,47.28 770.41,48.97 782.83,50.66 795.24,52.33 807.65,53.98 820.06,55.62 832.48,57.24 844.89,58.84 857.30,60.42 869.71,61.97 882.12,63.51 894.54,65.02 906.95,66.50 919.36,67.96 931.77,69.38 944.19,70.78 956.60,72.15 969.01,73.48 981.42,74.78 993.84,76.05 1006.25,77.28" stroke="#3f5fa3" stroke-width="1.25" stroke-opacity="0.5" fill="none"/><polyline points="758.00,41.11 770.41,42.87 782.83,44.60 795.24,46.33 807.65,48.03 820.06,49.72 832.48,51.39 844.89,53.04 857.30,54.67 869.71,56.28 882.12,57.86 894.54,59.42 906.95,60.95 919.36,62.45 931.77,63.92 944.19,65.37 956.60,66.78 969.01,68.15 981.42,69.50 993.84,70.81 1006.25,72.08" stroke="#4650b4" stroke-width="1.25" stroke-opacity="0.5" fill="none"/><polyline points="758.00,38.01 770.41,39.78 782.83,41.55 795.24,43.30 807.65,45.03 820.06,46.75 832.48,48.44 844.89,50.12 857.30,51.77 869.71,53.40 882.12,55.01 894.54,56.59 906.95,58.14 919.36,59.67 931.77,61.17 944.19,62.63 956.60,64.07 969.01,65.47 981.42,66.83 993.84,68.16 1006.25,69.45" stroke="#494abd" stroke-width="1.25" stroke-opacity="0.5" fill="none"/><polyline points="758.00,34.88 770.41,36.68 782.83,38.48 795.24,40.25 807.65,42.01 820.06,43.75 832.48,45.48 844.89,47.18 857.30,48.86 869.71,50.51 882.12,52.14 894.54,53.75 906.95,55.33 919.36,56.87 931.77,58.39 944.19,59.88 956.60,61.34 969.01,62.76 981.42,64.15 993.84,65.50 1006.25,66.81" stroke="#4d44c5" stroke-width="1.25" stroke-opacity="0.5" fill="none"/><polyline points="758.00,31.73 770.41,33.57 782.83,35.39 795.24,37.19 807.65,38.98 820.06,40.74 832.48,42.49 844.89,44.22 857.30,45.92 869.71,47.60 882.12,49.26 894.54,50.89 906.95,52.49 919.36,54.06 931.77,55.61 944.19,57.12 956.60,58.60 969.01,60.04 981.42,61.45 993.84,62.82 1006.25,64.16" stroke="#503ecd" stroke-width="1.25" stroke-opacity="0.5" fill="none"/><polyline points="758.00,28.57 770.41,30.43 782.83,32.28 795.24,34.11 807.65,35.92 820.06,37.72 832.48,39.49 844.89,41.24 857.30,42.97 869.71,44.68 882.12,46.36 894.54,48.01 906.95,49.64 919.36,51.23 931.77,52.80 944.19,54.34 956.60,55.84 969.01,57.31 981.42,58.74 993.84,60.13 1006.25,61.49" stroke="#5438d6" stroke-width="1.25" stroke-opacity="0.5" fill="none"/><polyline points="758.00,25.38 770.41,27.27 782.83,29.15 795.24,31.01 807.65,32.85 820.06,34.67 832.48,36.47 844.89,38.25 857.30,40.00 869.71,41.74 882.12,43.44 894.54,45.12 906.95,46.77 919.36,48.39 931.77,49.98 944.19,51.54 956.60,53.06 969.01,54.55 981.42,56.01 993.84,57.42 1006.25,58.80" stroke="#5832de" stroke-width="1.25" stroke-opacity="0.5" fill="none"/><polyline points="758.00,22.18 770.41,24.10 782.83,26.01 795.24,27.89 807.65,29.76 820.06,31.61 832.48,33.43 844.89,35.24 857.30,37.02 869.71,38.78 882.12,40.51 894.54,42.21 906.95,43.88 919.36,45.53 931.77,47.14 944.19,48.72 956.60,50.27 969.01,51.79 981.42,53.26 993.84,54.70 1006.25,56.10" stroke="#5b2ce6" stroke-width="1.25" stroke-opacity="0.5" fill="none"/><polyline points="758.00,18.96 770.41,20.91 782.83,22.84 795.24,24.76 807.65,26.65 820.06,28.53 832.48,30.38 844.89,32.21 857.30,34.02 869.71,35.80 882.12,37.55 894.54,39.28 906.95,40.98 919.36,42.65 931.77,44.29 944.19,45.89 956.60,47.47 969.01,49.00 981.42,50.50 993.84,51.96 1006.25,53.39" stroke="#5f26ee" stroke-width="1.25" stroke-opacity="0.5" fill="none"/><polyline points="758.00,15.72 770.41,17.70 782.83,19.66 795.24,21.60 807.65,23.53 820.06,25.43 832.48,27.31 844.89,29.16 857.30,31.00 869.71,32.81 882.12,34.59 894.54,36.34 906.95,38.06 919.36,39.76 931.77,41.42 944.19,43.05 956.60,44.64 969.01,46.20 981.42,47.72 993.84,49.21 1006.25,50.65" stroke="#6220f7" stroke-width="1.25" stroke-opacity="0.5" fill="none"/>
<polyline points="758.00,102.14 770.41,103.35 782.83,104.55 795.24,105.75 807.65,106.94 820.06,108.12 832.48,109.28 844.89,110.44 857.30,111.58 869.71,112.70 882.12,113.81 894.54,114.89 906.95,115.96 919.36,117.00 931.77,118.03 944.19,119.02 956.60,120.00 969.01,120.94 981.42,121.86 993.84,122.74 1006.25,123.60" stroke="#00ff00" stroke-width="1.7" fill="none"/><polyline points="758.00,74.10 770.41,75.55 782.83,77.00 795.24,78.44 807.65,79.87 820.06,81.28 832.48,82.68 844.89,84.06 857.30,85.42 869.71,86.77 882.12,88.09 894.54,89.40 906.95,90.68 919.36,91.93 931.77,93.16 944.19,94.36 956.60,95.54 969.01,96.68 981.42,97.79 993.84,98.87 1006.25,99.92" stroke="#22b255" stroke-width="1.25" fill="none"/><polyline points="758.00,44.21 770.41,45.93 782.83,47.64 795.24,49.34 807.65,51.02 820.06,52.68 832.48,54.32 844.89,55.95 857.30,57.55 869.71,59.13 882.12,60.69 894.54,62.22 906.95,63.73 919.36,65.21 931.77,66.66 944.19,68.08 956.60,69.47 969.01,70.83 981.42,72.15 993.84,73.44 1006.25,74.69" stroke="#4256ac" stroke-width="1.25" fill="none"/><polyline points="758.00,12.47 770.41,14.47 782.83,16.46 795.24,18.43 807.65,20.38 820.06,22.31 832.48,24.22 844.89,26.10 857.30,27.96 869.71,29.79 882.12,31.60 894.54,33.38 906.95,35.13 919.36,36.85 931.77,38.53 944.19,40.19 956.60,41.80 969.01,43.39 981.42,44.93 993.84,46.44 1006.25,47.91" stroke="#661aff" stroke-width="1.25" fill="none"/>
<path d="M807.65 259.25v-5.3M807.65 7.35v5.3M857.30 259.25v-5.3M857.30 7.35v5.3M906.95 259.25v-5.3M906.95 7.35v5.3M956.60 259.25v-5.3M956.60 7.35v5.3M758.00 231.26h5.3M1006.25 231.26h-5.3M758.00 203.27h5.3M1006.25 203.27h-5.3M758.00 175.28h5.3M1006.25 175.28h-5.3M758.00 147.29h5.3M1006.25 147.29h-5.3M758.00 119.31h5.3M1006.25 119.31h-5.3M758.00 91.32h5.3M1006.25 91.32h-5.3M758.00 63.33h5.3M1006.25 63.33h-5.3M758.00 35.34h5.3M1006.25 35.34h-5.3M758.00 245.26h2.2M1006.25 245.26h-2.2M758.00 217.27h2.2M1006.25 217.27h-2.2M758.00 189.28h2.2M1006.25 189.28h-2.2M758.00 161.29h2.2M1006.25 161.29h-2.2M758.00 133.30h2.2M1006.25 133.30h-2.2M758.00 105.31h2.2M1006.25 105.31h-2.2M758.00 77.32h2.2M1006.25 77.32h-2.2M758.00 49.33h2.2M1006.25 49.33h-2.2M758.00 21.34h2.2M1006.25 21.34h-2.2" stroke="#000" stroke-width="0.65" fill="none"/>
<rect x="758.00" y="7.35" width="248.25" height="251.90" fill="none" stroke="#111" stroke-width="1.3"/>
<g font-family="'DejaVu Sans','Liberation Sans',sans-serif" font-size="14.05" fill="#000" stroke="#000" stroke-width="0.18">
<text x="753.80" y="264.65" text-anchor="end">0.00</text>
<text x="753.80" y="236.60" text-anchor="end">0.01</text>
<text x="753.80" y="208.55" text-anchor="end">0.02</text>
<text x="753.80" y="180.50" text-anchor="end">0.03</text>
<text x="753.80" y="152.45" text-anchor="end">0.04</text>
<text x="753.80" y="124.40" text-anchor="end">0.05</text>
<text x="753.80" y="96.35" text-anchor="end">0.06</text>
<text x="753.80" y="68.30" text-anchor="end">0.07</text>
<text x="753.80" y="40.25" text-anchor="end">0.08</text>
<text x="753.80" y="12.20" text-anchor="end">0.09</text>
<text x="758.00" y="274.30" text-anchor="middle">0.90</text>
<text x="807.65" y="274.30" text-anchor="middle">0.92</text>
<text x="857.30" y="274.30" text-anchor="middle">0.94</text>
<text x="906.95" y="274.30" text-anchor="middle">0.96</text>
<text x="956.60" y="274.30" text-anchor="middle">0.98</text>
<text x="1006.25" y="274.30" text-anchor="middle">1.00</text>
</g>
<text transform="translate(882.83 293.40) scale(1.085 1)" text-anchor="middle" font-family="'Liberation Serif','DejaVu Serif',serif" font-style="italic" font-size="19.3" letter-spacing="0.35">LSE</text>
<text transform="translate(713.00 186.00) rotate(-90)" font-family="'Liberation Serif','DejaVu Serif',serif" font-style="italic" font-size="18.8"><tspan x="0 11 22">LST</tspan> <tspan x="39.1 47.9 55.7 63.5 71.6">error</tspan><tspan x="79.9" dy="1.2" font-style="normal">(</tspan><tspan x="88.3" dy="-1.2">K</tspan><tspan x="101.6" dy="1.2" font-style="normal">)</tspan></text>
<rect x="758.00" y="239.60" width="88.0" height="19.65" fill="#fff" stroke="#444" stroke-width="1.0"/>
<text x="760.00" y="253.00" font-family="'Liberation Serif','DejaVu Serif',serif" font-style="italic" font-size="15.5">T<tspan font-style="normal" font-size="10.7" dy="3.4">10</tspan><tspan font-style="normal" font-family="'DejaVu Sans Light','DejaVu Sans',sans-serif" font-weight="200" font-size="15" dy="-3.7" dx="-1.5">−</tspan><tspan dx="-2.0" dy="0.3">T</tspan><tspan font-style="normal" font-size="10.7" dy="3.4">11</tspan></text>
<text transform="translate(815.90 253.60) scale(1.4 1)" text-anchor="middle" font-family="'Liberation Serif','DejaVu Serif',serif" font-size="15">=</text>
<text transform="translate(821.50 253.00) scale(1.1 1)" font-family="'DejaVu Sans','Liberation Sans',sans-serif" font-size="14.6">3</text>
<text transform="translate(831.50 253.00) scale(1.13 1)" font-family="'Liberation Serif','DejaVu Serif',serif" font-style="italic" font-size="15.2">K</text>
<rect x="930.80" y="172.20" width="73.95" height="85.10" fill="#fff" stroke="#1c1c1c" stroke-width="1.4" stroke-linejoin="round"/>
<text x="958.35" y="185.80" font-family="'Liberation Serif','DejaVu Serif',serif" font-style="italic" font-size="16">T<tspan font-style="normal" font-size="11.4" dy="3.4">10</tspan></text>
<path d="M937.75 197.90H958.85" stroke="#00ff00" stroke-width="1.95"/>
<text x="965.85" y="203.65" font-family="'DejaVu Sans','Liberation Sans',sans-serif" font-size="14.05" stroke="#000" stroke-width="0.18">270K</text>
<path d="M937.75 214.90H958.85" stroke="#22b255" stroke-width="1.6"/>
<text x="965.85" y="220.65" font-family="'DejaVu Sans','Liberation Sans',sans-serif" font-size="14.05" stroke="#000" stroke-width="0.18">290K</text>
<path d="M937.75 231.90H958.85" stroke="#4256ac" stroke-width="1.4"/>
<text x="965.85" y="237.65" font-family="'DejaVu Sans','Liberation Sans',sans-serif" font-size="14.05" stroke="#000" stroke-width="0.18">310K</text>
<path d="M937.75 248.90H958.85" stroke="#661aff" stroke-width="1.4"/>
<text x="965.85" y="254.65" font-family="'DejaVu Sans','Liberation Sans',sans-serif" font-size="14.05" stroke="#000" stroke-width="0.18">330K</text>
</g>
<text x="510.80" y="331.80" text-anchor="middle" font-family="'Liberation Serif','DejaVu Serif',serif" font-size="26.5">(<tspan font-weight="bold">A</tspan>)</text>
<g>
<g stroke="#000" stroke-width="0.9" stroke-dasharray="1.1 3.577" fill="none" opacity="0.74"><path d="M111.15 604.00V350.35M160.95 604.00V350.35M210.75 604.00V350.35M260.55 604.00V350.35" stroke-dashoffset="0.3"/><path d="M61.35 575.82H310.35M61.35 547.63H310.35M61.35 519.45H310.35M61.35 491.27H310.35M61.35 463.08H310.35M61.35 434.90H310.35M61.35 406.72H310.35M61.35 378.53H310.35" stroke-dashoffset="-0.3"/></g>
<polyline points="61.35,448.45 73.80,449.72 86.25,450.99 98.70,452.25 111.15,453.49 123.60,454.73 136.05,455.95 148.50,457.16 160.95,458.35 173.40,459.53 185.85,460.69 198.30,461.82 210.75,462.94 223.20,464.03 235.65,465.10 248.10,466.14 260.55,467.16 273.00,468.15 285.45,469.11 297.90,470.03 310.35,470.93" stroke="#03f708" stroke-width="1.25" stroke-opacity="0.5" fill="none"/><polyline points="61.35,445.69 73.80,446.99 86.25,448.28 98.70,449.56 111.15,450.83 123.60,452.09 136.05,453.34 148.50,454.57 160.95,455.78 173.40,456.98 185.85,458.16 198.30,459.31 210.75,460.45 223.20,461.56 235.65,462.65 248.10,463.72 260.55,464.75 273.00,465.76 285.45,466.74 297.90,467.68 310.35,468.60" stroke="#07f011" stroke-width="1.25" stroke-opacity="0.5" fill="none"/><polyline points="61.35,442.91 73.80,444.24 86.25,445.55 98.70,446.86 111.15,448.15 123.60,449.43 136.05,450.70 148.50,451.95 160.95,453.19 173.40,454.41 185.85,455.61 198.30,456.79 210.75,457.95 223.20,459.08 235.65,460.19 248.10,461.27 260.55,462.33 273.00,463.36 285.45,464.35 297.90,465.32 310.35,466.25" stroke="#0ae81a" stroke-width="1.25" stroke-opacity="0.5" fill="none"/><polyline points="61.35,440.12 73.80,441.47 86.25,442.80 98.70,444.13 111.15,445.45 123.60,446.76 136.05,448.05 148.50,449.32 160.95,450.58 173.40,451.82 185.85,453.05 198.30,454.25 210.75,455.43 223.20,456.58 235.65,457.71 248.10,458.82 260.55,459.89 273.00,460.94 285.45,461.96 297.90,462.94 310.35,463.89" stroke="#0ee022" stroke-width="1.25" stroke-opacity="0.5" fill="none"/><polyline points="61.35,437.30 73.80,438.68 86.25,440.04 98.70,441.39 111.15,442.73 123.60,444.06 136.05,445.38 148.50,446.68 160.95,447.96 173.40,449.22 185.85,450.47 198.30,451.69 210.75,452.89 223.20,454.06 235.65,455.22 248.10,456.34 260.55,457.44 273.00,458.50 285.45,459.54 297.90,460.54 310.35,461.51" stroke="#11d82a" stroke-width="1.25" stroke-opacity="0.5" fill="none"/><polyline points="61.35,434.47 73.80,435.87 86.25,437.26 98.70,438.63 111.15,440.00 123.60,441.35 136.05,442.69 148.50,444.01 160.95,445.32 173.40,446.60 185.85,447.87 198.30,449.11 210.75,450.33 223.20,451.53 235.65,452.70 248.10,453.85 260.55,454.97 273.00,456.05 285.45,457.11 297.90,458.13 310.35,459.12" stroke="#14d133" stroke-width="1.25" stroke-opacity="0.5" fill="none"/><polyline points="61.35,431.62 73.80,433.04 86.25,434.46 98.70,435.86 111.15,437.25 123.60,438.62 136.05,439.99 148.50,441.33 160.95,442.66 173.40,443.97 185.85,445.25 198.30,446.52 210.75,447.76 223.20,448.98 235.65,450.17 248.10,451.34 260.55,452.48 273.00,453.59 285.45,454.66 297.90,455.70 310.35,456.71" stroke="#18c93b" stroke-width="1.25" stroke-opacity="0.5" fill="none"/><polyline points="61.35,428.75 73.80,430.20 86.25,431.64 98.70,433.06 111.15,434.48 123.60,435.88 136.05,437.26 148.50,438.63 160.95,439.98 173.40,441.31 185.85,442.62 198.30,443.91 210.75,445.18 223.20,446.42 235.65,447.63 248.10,448.82 260.55,449.97 273.00,451.10 285.45,452.20 297.90,453.26 310.35,454.29" stroke="#1bc144" stroke-width="1.25" stroke-opacity="0.5" fill="none"/><polyline points="61.35,425.86 73.80,427.33 86.25,428.80 98.70,430.25 111.15,431.69 123.60,433.11 136.05,434.52 148.50,435.91 160.95,437.29 173.40,438.64 185.85,439.97 198.30,441.28 210.75,442.57 223.20,443.83 235.65,445.07 248.10,446.28 260.55,447.46 273.00,448.60 285.45,449.72 297.90,450.80 310.35,451.85" stroke="#1fba4c" stroke-width="1.25" stroke-opacity="0.5" fill="none"/><polyline points="61.35,420.03 73.80,421.55 86.25,423.07 98.70,424.57 111.15,426.06 123.60,427.53 136.05,428.99 148.50,430.43 160.95,431.85 173.40,433.25 185.85,434.63 198.30,435.98 210.75,437.31 223.20,438.62 235.65,439.90 248.10,441.15 260.55,442.37 273.00,443.56 285.45,444.71 297.90,445.84 310.35,446.93" stroke="#25a95e" stroke-width="1.25" stroke-opacity="0.5" fill="none"/><polyline points="61.35,417.08 73.80,418.63 86.25,420.17 98.70,421.70 111.15,423.22 123.60,424.71 136.05,426.19 148.50,427.66 160.95,429.10 173.40,430.52 185.85,431.93 198.30,433.30 210.75,434.66 223.20,435.99 235.65,437.29 248.10,438.56 260.55,439.80 273.00,441.01 285.45,442.19 297.90,443.33 310.35,444.44" stroke="#28a066" stroke-width="1.25" stroke-opacity="0.5" fill="none"/><polyline points="61.35,414.12 73.80,415.70 86.25,417.26 98.70,418.82 111.15,420.35 123.60,421.88 136.05,423.38 148.50,424.87 160.95,426.34 173.40,427.78 185.85,429.21 198.30,430.61 210.75,431.99 223.20,433.34 235.65,434.66 248.10,435.95 260.55,437.22 273.00,438.45 285.45,439.65 297.90,440.81 310.35,441.94" stroke="#2c966f" stroke-width="1.25" stroke-opacity="0.5" fill="none"/><polyline points="61.35,411.14 73.80,412.74 86.25,414.33 98.70,415.91 111.15,417.48 123.60,419.02 136.05,420.55 148.50,422.07 160.95,423.56 173.40,425.03 185.85,426.48 198.30,427.90 210.75,429.30 223.20,430.67 235.65,432.02 248.10,433.33 260.55,434.62 273.00,435.87 285.45,437.09 297.90,438.27 310.35,439.42" stroke="#2f8d78" stroke-width="1.25" stroke-opacity="0.5" fill="none"/><polyline points="61.35,408.14 73.80,409.77 86.25,411.39 98.70,412.99 111.15,414.58 123.60,416.15 136.05,417.71 148.50,419.24 160.95,420.76 173.40,422.25 185.85,423.73 198.30,425.17 210.75,426.59 223.20,427.99 235.65,429.36 248.10,430.69 260.55,432.00 273.00,433.27 285.45,434.51 297.90,435.72 310.35,436.89" stroke="#328480" stroke-width="1.25" stroke-opacity="0.5" fill="none"/><polyline points="61.35,405.12 73.80,406.78 86.25,408.42 98.70,410.05 111.15,411.67 123.60,413.26 136.05,414.84 148.50,416.40 160.95,417.94 173.40,419.46 185.85,420.96 198.30,422.43 210.75,423.87 223.20,425.29 235.65,426.68 248.10,428.04 260.55,429.37 273.00,430.66 285.45,431.92 297.90,433.15 310.35,434.34" stroke="#357b89" stroke-width="1.25" stroke-opacity="0.5" fill="none"/><polyline points="61.35,402.08 73.80,403.76 86.25,405.44 98.70,407.09 111.15,408.73 123.60,410.36 136.05,411.96 148.50,413.55 160.95,415.11 173.40,416.65 185.85,418.17 198.30,419.67 210.75,421.13 223.20,422.57 235.65,423.99 248.10,425.37 260.55,426.72 273.00,428.04 285.45,429.32 297.90,430.57 310.35,431.78" stroke="#387292" stroke-width="1.25" stroke-opacity="0.5" fill="none"/><polyline points="61.35,399.02 73.80,400.74 86.25,402.43 98.70,404.12 111.15,405.78 123.60,407.43 136.05,409.06 148.50,410.67 160.95,412.26 173.40,413.83 185.85,415.37 198.30,416.89 210.75,418.38 223.20,419.84 235.65,421.28 248.10,422.68 260.55,424.05 273.00,425.39 285.45,426.70 297.90,427.97 310.35,429.20" stroke="#3c689b" stroke-width="1.25" stroke-opacity="0.5" fill="none"/><polyline points="61.35,395.95 73.80,397.69 86.25,399.41 98.70,401.12 111.15,402.82 123.60,404.49 136.05,406.15 148.50,407.78 160.95,409.40 173.40,410.99 185.85,412.55 198.30,414.09 210.75,415.61 223.20,417.09 235.65,418.55 248.10,419.98 260.55,421.37 273.00,422.73 285.45,424.06 297.90,425.35 310.35,426.60" stroke="#3f5fa3" stroke-width="1.25" stroke-opacity="0.5" fill="none"/><polyline points="61.35,389.74 73.80,391.54 86.25,393.32 98.70,395.08 111.15,396.83 123.60,398.55 136.05,400.26 148.50,401.95 160.95,403.61 173.40,405.25 185.85,406.86 198.30,408.45 210.75,410.01 223.20,411.55 235.65,413.05 248.10,414.52 260.55,415.96 273.00,417.37 285.45,418.74 297.90,420.07 310.35,421.37" stroke="#4650b4" stroke-width="1.25" stroke-opacity="0.5" fill="none"/><polyline points="61.35,386.61 73.80,388.43 86.25,390.24 98.70,392.03 111.15,393.80 123.60,395.56 136.05,397.29 148.50,399.00 160.95,400.69 173.40,402.36 185.85,403.99 198.30,405.61 210.75,407.19 223.20,408.75 235.65,410.28 248.10,411.77 260.55,413.23 273.00,414.66 285.45,416.05 297.90,417.41 310.35,418.72" stroke="#494abd" stroke-width="1.25" stroke-opacity="0.5" fill="none"/><polyline points="61.35,383.46 73.80,385.31 86.25,387.15 98.70,388.96 111.15,390.76 123.60,392.54 136.05,394.30 148.50,396.04 160.95,397.75 173.40,399.44 185.85,401.11 198.30,402.75 210.75,404.35 223.20,405.93 235.65,407.48 248.10,409.00 260.55,410.49 273.00,411.94 285.45,413.35 297.90,414.73 310.35,416.07" stroke="#4d44c5" stroke-width="1.25" stroke-opacity="0.5" fill="none"/><polyline points="61.35,380.29 73.80,382.17 86.25,384.03 98.70,385.88 111.15,387.71 123.60,389.51 136.05,391.30 148.50,393.06 160.95,394.80 173.40,396.52 185.85,398.20 198.30,399.87 210.75,401.50 223.20,403.10 235.65,404.68 248.10,406.22 260.55,407.72 273.00,409.20 285.45,410.63 297.90,412.03 310.35,413.39" stroke="#503ecd" stroke-width="1.25" stroke-opacity="0.5" fill="none"/><polyline points="61.35,377.11 73.80,379.01 86.25,380.90 98.70,382.78 111.15,384.63 123.60,386.46 136.05,388.27 148.50,390.06 160.95,391.83 173.40,393.57 185.85,395.28 198.30,396.97 210.75,398.63 223.20,400.26 235.65,401.85 248.10,403.42 260.55,404.95 273.00,406.44 285.45,407.90 297.90,409.32 310.35,410.70" stroke="#5438d6" stroke-width="1.25" stroke-opacity="0.5" fill="none"/><polyline points="61.35,373.90 73.80,375.84 86.25,377.76 98.70,379.66 111.15,381.54 123.60,383.40 136.05,385.23 148.50,387.05 160.95,388.84 173.40,390.61 185.85,392.35 198.30,394.06 210.75,395.74 223.20,397.39 235.65,399.01 248.10,400.60 260.55,402.15 273.00,403.67 285.45,405.15 297.90,406.60 310.35,408.00" stroke="#5832de" stroke-width="1.25" stroke-opacity="0.5" fill="none"/><polyline points="61.35,370.68 73.80,372.64 86.25,374.59 98.70,376.52 111.15,378.42 123.60,380.31 136.05,382.18 148.50,384.02 160.95,385.84 173.40,387.63 185.85,389.39 198.30,391.13 210.75,392.83 223.20,394.51 235.65,396.15 248.10,397.77 260.55,399.34 273.00,400.88 285.45,402.39 297.90,403.85 310.35,405.28" stroke="#5b2ce6" stroke-width="1.25" stroke-opacity="0.5" fill="none"/><polyline points="61.35,367.44 73.80,369.43 86.25,371.40 98.70,373.36 111.15,375.29 123.60,377.21 136.05,379.10 148.50,380.97 160.95,382.81 173.40,384.63 185.85,386.42 198.30,388.18 210.75,389.91 223.20,391.61 235.65,393.28 248.10,394.92 260.55,396.52 273.00,398.08 285.45,399.61 297.90,401.10 310.35,402.54" stroke="#5f26ee" stroke-width="1.25" stroke-opacity="0.5" fill="none"/><polyline points="61.35,364.17 73.80,366.20 86.25,368.20 98.70,370.18 111.15,372.15 123.60,374.09 136.05,376.01 148.50,377.90 160.95,379.77 173.40,381.62 185.85,383.43 198.30,385.22 210.75,386.97 223.20,388.70 235.65,390.39 248.10,392.05 260.55,393.67 273.00,395.26 285.45,396.81 297.90,398.32 310.35,399.79" stroke="#6220f7" stroke-width="1.25" stroke-opacity="0.5" fill="none"/>
<polyline points="61.35,451.19 73.80,452.44 86.25,453.68 98.70,454.91 111.15,456.14 123.60,457.35 136.05,458.55 148.50,459.74 160.95,460.91 173.40,462.06 185.85,463.20 198.30,464.31 210.75,465.41 223.20,466.48 235.65,467.53 248.10,468.55 260.55,469.55 273.00,470.52 285.45,471.46 297.90,472.37 310.35,473.24" stroke="#00ff00" stroke-width="1.6" fill="none"/><polyline points="61.35,422.95 73.80,424.45 86.25,425.94 98.70,427.42 111.15,428.88 123.60,430.33 136.05,431.76 148.50,433.18 160.95,434.58 173.40,435.95 185.85,437.31 198.30,438.64 210.75,439.95 223.20,441.23 235.65,442.49 248.10,443.72 260.55,444.92 273.00,446.09 285.45,447.23 297.90,448.33 310.35,449.40" stroke="#22b255" stroke-width="1.25" fill="none"/><polyline points="61.35,392.85 73.80,394.62 86.25,396.37 98.70,398.11 111.15,399.83 123.60,401.53 136.05,403.21 148.50,404.87 160.95,406.51 173.40,408.13 185.85,409.72 198.30,411.28 210.75,412.82 223.20,414.33 235.65,415.81 248.10,417.26 260.55,418.67 273.00,420.06 285.45,421.41 297.90,422.72 310.35,423.99" stroke="#4256ac" stroke-width="1.25" fill="none"/><polyline points="61.35,360.89 73.80,362.95 86.25,364.98 98.70,366.99 111.15,368.98 123.60,370.95 136.05,372.90 148.50,374.82 160.95,376.71 173.40,378.58 185.85,380.42 198.30,382.24 210.75,384.02 223.20,385.77 235.65,387.49 248.10,389.17 260.55,390.82 273.00,392.43 285.45,394.00 297.90,395.53 310.35,397.03" stroke="#661aff" stroke-width="1.25" fill="none"/>
<path d="M111.15 604.00v-5.3M111.15 350.35v5.3M160.95 604.00v-5.3M160.95 350.35v5.3M210.75 604.00v-5.3M210.75 350.35v5.3M260.55 604.00v-5.3M260.55 350.35v5.3M61.35 575.82h5.3M310.35 575.82h-5.3M61.35 547.63h5.3M310.35 547.63h-5.3M61.35 519.45h5.3M310.35 519.45h-5.3M61.35 491.27h5.3M310.35 491.27h-5.3M61.35 463.08h5.3M310.35 463.08h-5.3M61.35 434.90h5.3M310.35 434.90h-5.3M61.35 406.72h5.3M310.35 406.72h-5.3M61.35 378.53h5.3M310.35 378.53h-5.3" stroke="#000" stroke-width="0.65" fill="none"/>
<g font-family="'DejaVu Sans','Liberation Sans',sans-serif" font-size="14.05" fill="#000" stroke="#000" stroke-width="0.18">
<text x="57.60" y="609.15" text-anchor="end">0.00</text>
<text x="57.60" y="580.88" text-anchor="end">0.05</text>
<text x="57.60" y="552.61" text-anchor="end">0.10</text>
<text x="57.60" y="524.33" text-anchor="end">0.15</text>
<text x="57.60" y="496.06" text-anchor="end">0.20</text>
<text x="57.60" y="467.79" text-anchor="end">0.25</text>
<text x="57.60" y="439.52" text-anchor="end">0.30</text>
<text x="57.60" y="411.24" text-anchor="end">0.35</text>
<text x="57.60" y="382.97" text-anchor="end">0.40</text>
<text x="57.60" y="354.70" text-anchor="end">0.45</text>
<text x="61.35" y="619.10" text-anchor="middle">0.90</text>
<text x="111.15" y="619.10" text-anchor="middle">0.92</text>
<text x="160.95" y="619.10" text-anchor="middle">0.94</text>
<text x="210.75" y="619.10" text-anchor="middle">0.96</text>
<text x="260.55" y="619.10" text-anchor="middle">0.98</text>
<text x="310.35" y="619.10" text-anchor="middle">1.00</text>
</g>
<text transform="translate(186.55 638.25) scale(1.085 1)" text-anchor="middle" font-family="'Liberation Serif','DejaVu Serif',serif" font-style="italic" font-size="19.3" letter-spacing="0.35">LSE</text>
<text transform="translate(16.15 530.88) rotate(-90)" font-family="'Liberation Serif','DejaVu Serif',serif" font-style="italic" font-size="18.8"><tspan x="0 11 22">LST</tspan> <tspan x="39.1 47.9 55.7 63.5 71.6">error</tspan><tspan x="79.9" dy="1.2" font-style="normal">(</tspan><tspan x="88.3" dy="-1.2">K</tspan><tspan x="101.6" dy="1.2" font-style="normal">)</tspan></text>
<rect x="61.35" y="584.10" width="88.9" height="19.90" fill="#fff" stroke="#444" stroke-width="1.0"/>
<text x="63.85" y="597.50" font-family="'Liberation Serif','DejaVu Serif',serif" font-style="italic" font-size="15.5">T<tspan font-style="normal" font-size="10.7" dy="3.4">10</tspan><tspan font-style="normal" font-family="'DejaVu Sans Light','DejaVu Sans',sans-serif" font-weight="200" font-size="15" dy="-3.7" dx="-1.5">−</tspan><tspan dx="-2.0" dy="0.3">T</tspan><tspan font-style="normal" font-size="10.7" dy="3.4">11</tspan></text>
<text transform="translate(119.75 598.10) scale(1.4 1)" text-anchor="middle" font-family="'Liberation Serif','DejaVu Serif',serif" font-size="15">=</text>
<text transform="translate(125.35 597.50) scale(1.1 1)" font-family="'DejaVu Sans','Liberation Sans',sans-serif" font-size="14.6">1</text>
<text transform="translate(135.35 597.50) scale(1.13 1)" font-family="'Liberation Serif','DejaVu Serif',serif" font-style="italic" font-size="15.2">K</text>
<rect x="61.35" y="350.35" width="249.00" height="253.65" fill="none" stroke="#111" stroke-width="1.45"/>
<rect x="234.20" y="515.70" width="74.65" height="86.50" fill="#fff" stroke="#1c1c1c" stroke-width="1.4" stroke-linejoin="round"/>
<text x="262.45" y="529.80" font-family="'Liberation Serif','DejaVu Serif',serif" font-style="italic" font-size="16">T<tspan font-style="normal" font-size="11.4" dy="3.4">10</tspan></text>
<path d="M241.15 542.10H262.95" stroke="#00ff00" stroke-width="1.8"/>
<text x="269.95" y="547.85" font-family="'DejaVu Sans','Liberation Sans',sans-serif" font-size="14.05" stroke="#000" stroke-width="0.18">270K</text>
<path d="M241.15 559.22H262.95" stroke="#22b255" stroke-width="1.6"/>
<text x="269.95" y="564.97" font-family="'DejaVu Sans','Liberation Sans',sans-serif" font-size="14.05" stroke="#000" stroke-width="0.18">290K</text>
<path d="M241.15 576.34H262.95" stroke="#4256ac" stroke-width="1.4"/>
<text x="269.95" y="582.09" font-family="'DejaVu Sans','Liberation Sans',sans-serif" font-size="14.05" stroke="#000" stroke-width="0.18">310K</text>
<path d="M241.15 593.46H262.95" stroke="#661aff" stroke-width="1.4"/>
<text x="269.95" y="599.21" font-family="'DejaVu Sans','Liberation Sans',sans-serif" font-size="14.05" stroke="#000" stroke-width="0.18">330K</text>
</g>
<g>
<g stroke="#000" stroke-width="0.9" stroke-dasharray="1.1 3.577" fill="none" opacity="0.74"><path d="M460.10 604.00V350.35M509.90 604.00V350.35M559.70 604.00V350.35M609.50 604.00V350.35" stroke-dashoffset="0.3"/><path d="M410.30 575.82H659.30M410.30 547.63H659.30M410.30 519.45H659.30M410.30 491.27H659.30M410.30 463.08H659.30M410.30 434.90H659.30M410.30 406.72H659.30M410.30 378.53H659.30" stroke-dashoffset="-0.3"/></g>
<polyline points="410.30,445.28 422.75,446.56 435.20,447.84 447.65,449.11 460.10,450.38 472.55,451.62 485.00,452.86 497.45,454.08 509.90,455.29 522.35,456.47 534.80,457.64 547.25,458.79 559.70,459.92 572.15,461.03 584.60,462.11 597.05,463.16 609.50,464.19 621.95,465.19 634.40,466.16 646.85,467.10 659.30,468.01" stroke="#03f708" stroke-width="1.25" stroke-opacity="0.5" fill="none"/><polyline points="410.30,442.52 422.75,443.83 435.20,445.13 447.65,446.43 460.10,447.71 472.55,448.98 485.00,450.24 497.45,451.49 509.90,452.71 522.35,453.92 534.80,455.11 547.25,456.28 559.70,457.43 572.15,458.56 584.60,459.66 597.05,460.74 609.50,461.78 621.95,462.80 634.40,463.79 646.85,464.75 659.30,465.68" stroke="#07f011" stroke-width="1.25" stroke-opacity="0.5" fill="none"/><polyline points="410.30,439.74 422.75,441.08 435.20,442.41 447.65,443.72 460.10,445.03 472.55,446.33 485.00,447.61 497.45,448.87 509.90,450.12 522.35,451.35 534.80,452.57 547.25,453.76 559.70,454.93 572.15,456.08 584.60,457.20 597.05,458.29 609.50,459.36 621.95,460.40 634.40,461.41 646.85,462.39 659.30,463.33" stroke="#0ae81a" stroke-width="1.25" stroke-opacity="0.5" fill="none"/><polyline points="410.30,436.94 422.75,438.31 435.20,439.66 447.65,441.00 460.10,442.33 472.55,443.65 485.00,444.96 497.45,446.24 509.90,447.52 522.35,448.77 534.80,450.00 547.25,451.22 559.70,452.41 572.15,453.58 584.60,454.72 597.05,455.83 609.50,456.92 621.95,457.98 634.40,459.01 646.85,460.01 659.30,460.97" stroke="#0ee022" stroke-width="1.25" stroke-opacity="0.5" fill="none"/><polyline points="410.30,434.13 422.75,435.52 435.20,436.89 447.65,438.26 460.10,439.62 472.55,440.96 485.00,442.29 497.45,443.60 509.90,444.89 522.35,446.17 534.80,447.42 547.25,448.66 559.70,449.87 572.15,451.06 584.60,452.22 597.05,453.36 609.50,454.47 621.95,455.55 634.40,456.60 646.85,457.61 659.30,458.59" stroke="#11d82a" stroke-width="1.25" stroke-opacity="0.5" fill="none"/><polyline points="410.30,431.30 422.75,432.71 435.20,434.11 447.65,435.50 460.10,436.88 472.55,438.25 485.00,439.60 497.45,440.93 509.90,442.25 522.35,443.55 534.80,444.83 547.25,446.08 559.70,447.32 572.15,448.53 584.60,449.71 597.05,450.87 609.50,452.00 621.95,453.10 634.40,454.16 646.85,455.20 659.30,456.20" stroke="#14d133" stroke-width="1.25" stroke-opacity="0.5" fill="none"/><polyline points="410.30,428.45 422.75,429.88 435.20,431.31 447.65,432.73 460.10,434.13 472.55,435.52 485.00,436.89 497.45,438.25 509.90,439.59 522.35,440.91 534.80,442.21 547.25,443.49 559.70,444.75 572.15,445.98 584.60,447.18 597.05,448.36 609.50,449.51 621.95,450.63 634.40,451.72 646.85,452.77 659.30,453.79" stroke="#18c93b" stroke-width="1.25" stroke-opacity="0.5" fill="none"/><polyline points="410.30,425.58 422.75,427.04 435.20,428.49 447.65,429.93 460.10,431.36 472.55,432.77 485.00,434.17 497.45,435.55 509.90,436.91 522.35,438.26 534.80,439.58 547.25,440.88 559.70,442.16 572.15,443.41 584.60,444.64 597.05,445.84 609.50,447.01 621.95,448.15 634.40,449.25 646.85,450.33 659.30,451.37" stroke="#1bc144" stroke-width="1.25" stroke-opacity="0.5" fill="none"/><polyline points="410.30,422.69 422.75,424.18 435.20,425.65 447.65,427.12 460.10,428.57 472.55,430.01 485.00,431.43 497.45,432.83 509.90,434.22 522.35,435.59 534.80,436.93 547.25,438.25 559.70,439.55 572.15,440.83 584.60,442.08 597.05,443.30 609.50,444.49 621.95,445.65 634.40,446.78 646.85,447.87 659.30,448.93" stroke="#1fba4c" stroke-width="1.25" stroke-opacity="0.5" fill="none"/><polyline points="410.30,416.85 422.75,418.39 435.20,419.92 447.65,421.44 460.10,422.94 472.55,424.42 485.00,425.89 497.45,427.35 509.90,428.78 522.35,430.19 534.80,431.58 547.25,432.95 559.70,434.30 572.15,435.61 584.60,436.90 597.05,438.17 609.50,439.40 621.95,440.60 634.40,441.77 646.85,442.91 659.30,444.01" stroke="#25a95e" stroke-width="1.25" stroke-opacity="0.5" fill="none"/><polyline points="410.30,413.91 422.75,415.48 435.20,417.03 447.65,418.57 460.10,420.10 472.55,421.61 485.00,423.10 497.45,424.58 509.90,426.03 522.35,427.47 534.80,428.88 547.25,430.27 559.70,431.64 572.15,432.98 584.60,434.29 597.05,435.58 609.50,436.83 621.95,438.05 634.40,439.24 646.85,440.40 659.30,441.52" stroke="#28a066" stroke-width="1.25" stroke-opacity="0.5" fill="none"/><polyline points="410.30,410.95 422.75,412.54 435.20,414.12 447.65,415.68 460.10,417.24 472.55,418.77 485.00,420.29 497.45,421.79 509.90,423.27 522.35,424.73 534.80,426.17 547.25,427.58 559.70,428.97 572.15,430.33 584.60,431.67 597.05,432.97 609.50,434.25 621.95,435.49 634.40,436.70 646.85,437.88 659.30,439.02" stroke="#2c966f" stroke-width="1.25" stroke-opacity="0.5" fill="none"/><polyline points="410.30,407.97 422.75,409.58 435.20,411.19 447.65,412.78 460.10,414.36 472.55,415.92 485.00,417.46 497.45,418.99 509.90,420.49 522.35,421.97 534.80,423.43 547.25,424.87 559.70,426.28 572.15,427.67 584.60,429.02 597.05,430.35 609.50,431.65 621.95,432.91 634.40,434.14 646.85,435.34 659.30,436.50" stroke="#2f8d78" stroke-width="1.25" stroke-opacity="0.5" fill="none"/><polyline points="410.30,404.96 422.75,406.61 435.20,408.24 447.65,409.86 460.10,411.46 472.55,413.05 485.00,414.61 497.45,416.16 509.90,417.69 522.35,419.20 534.80,420.68 547.25,422.14 559.70,423.58 572.15,424.98 584.60,426.36 597.05,427.71 609.50,429.03 621.95,430.32 634.40,431.57 646.85,432.79 659.30,433.97" stroke="#328480" stroke-width="1.25" stroke-opacity="0.5" fill="none"/><polyline points="410.30,401.95 422.75,403.62 435.20,405.28 447.65,406.92 460.10,408.55 472.55,410.16 485.00,411.75 497.45,413.32 509.90,414.88 522.35,416.41 534.80,417.92 547.25,419.40 559.70,420.86 572.15,422.29 584.60,423.69 597.05,425.06 609.50,426.40 621.95,427.71 634.40,428.98 646.85,430.22 659.30,431.42" stroke="#357b89" stroke-width="1.25" stroke-opacity="0.5" fill="none"/><polyline points="410.30,398.91 422.75,400.61 435.20,402.29 447.65,403.96 460.10,405.61 472.55,407.25 485.00,408.87 497.45,410.47 509.90,412.04 522.35,413.60 534.80,415.13 547.25,416.64 559.70,418.12 572.15,419.57 584.60,420.99 597.05,422.39 609.50,423.75 621.95,425.08 634.40,426.37 646.85,427.63 659.30,428.86" stroke="#387292" stroke-width="1.25" stroke-opacity="0.5" fill="none"/><polyline points="410.30,395.85 422.75,397.58 435.20,399.29 447.65,400.98 460.10,402.66 472.55,404.33 485.00,405.97 497.45,407.59 509.90,409.19 522.35,410.77 534.80,412.33 547.25,413.86 559.70,415.36 572.15,416.84 584.60,418.28 597.05,419.70 609.50,421.08 621.95,422.44 634.40,423.75 646.85,425.03 659.30,426.28" stroke="#3c689b" stroke-width="1.25" stroke-opacity="0.5" fill="none"/><polyline points="410.30,392.78 422.75,394.53 435.20,396.27 447.65,397.99 460.10,399.70 472.55,401.38 485.00,403.05 497.45,404.70 509.90,406.33 522.35,407.93 534.80,409.51 547.25,411.06 559.70,412.59 572.15,414.09 584.60,415.56 597.05,417.00 609.50,418.40 621.95,419.78 634.40,421.12 646.85,422.42 659.30,423.68" stroke="#3f5fa3" stroke-width="1.25" stroke-opacity="0.5" fill="none"/><polyline points="410.30,386.57 422.75,388.38 435.20,390.17 447.65,391.95 460.10,393.71 472.55,395.45 485.00,397.17 497.45,398.87 509.90,400.54 522.35,402.19 534.80,403.82 547.25,405.42 559.70,407.00 572.15,408.54 584.60,410.06 597.05,411.54 609.50,412.99 621.95,414.41 634.40,415.79 646.85,417.14 659.30,418.45" stroke="#4650b4" stroke-width="1.25" stroke-opacity="0.5" fill="none"/><polyline points="410.30,383.44 422.75,385.28 435.20,387.10 447.65,388.90 460.10,390.68 472.55,392.45 485.00,394.20 497.45,395.92 509.90,397.62 522.35,399.30 534.80,400.95 547.25,402.58 559.70,404.18 572.15,405.74 584.60,407.28 597.05,408.79 609.50,410.26 621.95,411.70 634.40,413.11 646.85,414.47 659.30,415.80" stroke="#494abd" stroke-width="1.25" stroke-opacity="0.5" fill="none"/><polyline points="410.30,380.29 422.75,382.15 435.20,384.00 447.65,385.83 460.10,387.64 472.55,389.44 485.00,391.21 497.45,392.96 509.90,394.69 522.35,396.39 534.80,398.07 547.25,399.72 559.70,401.34 572.15,402.93 584.60,404.49 597.05,406.02 609.50,407.52 621.95,408.98 634.40,410.41 646.85,411.80 659.30,413.15" stroke="#4d44c5" stroke-width="1.25" stroke-opacity="0.5" fill="none"/><polyline points="410.30,377.12 422.75,379.01 435.20,380.89 447.65,382.75 460.10,384.59 472.55,386.41 485.00,388.20 497.45,389.98 509.90,391.73 522.35,393.46 534.80,395.16 547.25,396.84 559.70,398.48 572.15,400.10 584.60,401.68 597.05,403.24 609.50,404.76 621.95,406.24 634.40,407.69 646.85,409.10 659.30,410.47" stroke="#503ecd" stroke-width="1.25" stroke-opacity="0.5" fill="none"/><polyline points="410.30,373.94 422.75,375.86 435.20,377.76 447.65,379.64 460.10,381.51 472.55,383.36 485.00,385.18 497.45,386.98 509.90,388.76 522.35,390.51 534.80,392.24 547.25,393.94 559.70,395.61 572.15,397.25 584.60,398.86 597.05,400.44 609.50,401.98 621.95,403.49 634.40,404.96 646.85,406.39 659.30,407.78" stroke="#5438d6" stroke-width="1.25" stroke-opacity="0.5" fill="none"/><polyline points="410.30,370.73 422.75,372.68 435.20,374.61 447.65,376.52 460.10,378.42 472.55,380.29 485.00,382.14 497.45,383.97 509.90,385.77 522.35,387.55 534.80,389.30 547.25,391.03 559.70,392.72 572.15,394.39 584.60,396.02 597.05,397.62 609.50,399.18 621.95,400.71 634.40,402.21 646.85,403.66 659.30,405.08" stroke="#5832de" stroke-width="1.25" stroke-opacity="0.5" fill="none"/><polyline points="410.30,367.51 422.75,369.48 435.20,371.44 447.65,373.38 460.10,375.31 472.55,377.21 485.00,379.08 497.45,380.94 509.90,382.77 522.35,384.57 534.80,386.35 547.25,388.10 559.70,389.82 572.15,391.51 584.60,393.16 597.05,394.79 609.50,396.37 621.95,397.93 634.40,399.44 646.85,400.92 659.30,402.36" stroke="#5b2ce6" stroke-width="1.25" stroke-opacity="0.5" fill="none"/><polyline points="410.30,364.26 422.75,366.27 435.20,368.26 447.65,370.23 460.10,372.18 472.55,374.10 485.00,376.01 497.45,377.89 509.90,379.74 522.35,381.57 534.80,383.38 547.25,385.15 559.70,386.90 572.15,388.61 584.60,390.29 597.05,391.94 609.50,393.55 621.95,395.12 634.40,396.66 646.85,398.16 659.30,399.62" stroke="#5f26ee" stroke-width="1.25" stroke-opacity="0.5" fill="none"/><polyline points="410.30,361.00 422.75,363.04 435.20,365.05 447.65,367.05 460.10,369.03 472.55,370.98 485.00,372.91 497.45,374.82 509.90,376.70 522.35,378.56 534.80,380.39 547.25,382.19 559.70,383.96 572.15,385.69 584.60,387.40 597.05,389.07 609.50,390.71 621.95,392.31 634.40,393.87 646.85,395.39 659.30,396.87" stroke="#6220f7" stroke-width="1.25" stroke-opacity="0.5" fill="none"/>
<polyline points="410.30,448.02 422.75,449.28 435.20,450.54 447.65,451.78 460.10,453.02 472.55,454.25 485.00,455.46 497.45,456.66 509.90,457.84 522.35,459.01 534.80,460.16 547.25,461.28 559.70,462.39 572.15,463.48 584.60,464.54 597.05,465.57 609.50,466.58 621.95,467.56 634.40,468.51 646.85,469.43 659.30,470.32" stroke="#00ff00" stroke-width="1.6" fill="none"/><polyline points="410.30,419.78 422.75,421.29 435.20,422.80 447.65,424.29 460.10,425.76 472.55,427.22 485.00,428.67 497.45,430.10 509.90,431.51 522.35,432.90 534.80,434.27 547.25,435.61 559.70,436.93 572.15,438.23 584.60,439.50 597.05,440.74 609.50,441.95 621.95,443.13 634.40,444.28 646.85,445.40 659.30,446.48" stroke="#22b255" stroke-width="1.25" fill="none"/><polyline points="410.30,389.68 422.75,391.46 435.20,393.23 447.65,394.98 460.10,396.71 472.55,398.42 485.00,400.12 497.45,401.79 509.90,403.44 522.35,405.07 534.80,406.67 547.25,408.25 559.70,409.80 572.15,411.32 584.60,412.82 597.05,414.28 609.50,415.71 621.95,417.10 634.40,418.46 646.85,419.79 659.30,421.07" stroke="#4256ac" stroke-width="1.25" fill="none"/><polyline points="410.30,357.72 422.75,359.79 435.20,361.83 447.65,363.86 460.10,365.86 472.55,367.84 485.00,369.80 497.45,371.74 509.90,373.65 522.35,375.53 534.80,377.38 547.25,379.21 559.70,381.00 572.15,382.76 584.60,384.49 597.05,386.19 609.50,387.85 621.95,389.47 634.40,391.05 646.85,392.60 659.30,394.11" stroke="#661aff" stroke-width="1.25" fill="none"/>
<path d="M460.10 604.00v-5.3M460.10 350.35v5.3M509.90 604.00v-5.3M509.90 350.35v5.3M559.70 604.00v-5.3M559.70 350.35v5.3M609.50 604.00v-5.3M609.50 350.35v5.3M410.30 575.82h5.3M659.30 575.82h-5.3M410.30 547.63h5.3M659.30 547.63h-5.3M410.30 519.45h5.3M659.30 519.45h-5.3M410.30 491.27h5.3M659.30 491.27h-5.3M410.30 463.08h5.3M659.30 463.08h-5.3M410.30 434.90h5.3M659.30 434.90h-5.3M410.30 406.72h5.3M659.30 406.72h-5.3M410.30 378.53h5.3M659.30 378.53h-5.3" stroke="#000" stroke-width="0.65" fill="none"/>
<g font-family="'DejaVu Sans','Liberation Sans',sans-serif" font-size="14.05" fill="#000" stroke="#000" stroke-width="0.18">
<text x="406.10" y="609.15" text-anchor="end">0.00</text>
<text x="406.10" y="580.88" text-anchor="end">0.05</text>
<text x="406.10" y="552.61" text-anchor="end">0.10</text>
<text x="406.10" y="524.33" text-anchor="end">0.15</text>
<text x="406.10" y="496.06" text-anchor="end">0.20</text>
<text x="406.10" y="467.79" text-anchor="end">0.25</text>
<text x="406.10" y="439.52" text-anchor="end">0.30</text>
<text x="406.10" y="411.24" text-anchor="end">0.35</text>
<text x="406.10" y="382.97" text-anchor="end">0.40</text>
<text x="406.10" y="354.70" text-anchor="end">0.45</text>
<text x="410.30" y="619.10" text-anchor="middle">0.90</text>
<text x="460.10" y="619.10" text-anchor="middle">0.92</text>
<text x="509.90" y="619.10" text-anchor="middle">0.94</text>
<text x="559.70" y="619.10" text-anchor="middle">0.96</text>
<text x="609.50" y="619.10" text-anchor="middle">0.98</text>
<text x="659.30" y="619.10" text-anchor="middle">1.00</text>
</g>
<text transform="translate(535.50 638.25) scale(1.085 1)" text-anchor="middle" font-family="'Liberation Serif','DejaVu Serif',serif" font-style="italic" font-size="19.3" letter-spacing="0.35">LSE</text>
<text transform="translate(365.30 530.88) rotate(-90)" font-family="'Liberation Serif','DejaVu Serif',serif" font-style="italic" font-size="18.8"><tspan x="0 11 22">LST</tspan> <tspan x="39.1 47.9 55.7 63.5 71.6">error</tspan><tspan x="79.9" dy="1.2" font-style="normal">(</tspan><tspan x="88.3" dy="-1.2">K</tspan><tspan x="101.6" dy="1.2" font-style="normal">)</tspan></text>
<rect x="410.30" y="584.10" width="88.9" height="19.90" fill="#fff" stroke="#444" stroke-width="1.0"/>
<text x="412.80" y="597.50" font-family="'Liberation Serif','DejaVu Serif',serif" font-style="italic" font-size="15.5">T<tspan font-style="normal" font-size="10.7" dy="3.4">10</tspan><tspan font-style="normal" font-family="'DejaVu Sans Light','DejaVu Sans',sans-serif" font-weight="200" font-size="15" dy="-3.7" dx="-1.5">−</tspan><tspan dx="-2.0" dy="0.3">T</tspan><tspan font-style="normal" font-size="10.7" dy="3.4">11</tspan></text>
<text transform="translate(468.70 598.10) scale(1.4 1)" text-anchor="middle" font-family="'Liberation Serif','DejaVu Serif',serif" font-size="15">=</text>
<text transform="translate(474.30 597.50) scale(1.1 1)" font-family="'DejaVu Sans','Liberation Sans',sans-serif" font-size="14.6">2</text>
<text transform="translate(484.30 597.50) scale(1.13 1)" font-family="'Liberation Serif','DejaVu Serif',serif" font-style="italic" font-size="15.2">K</text>
<rect x="410.30" y="350.35" width="249.00" height="253.65" fill="none" stroke="#111" stroke-width="1.45"/>
<rect x="583.15" y="515.70" width="74.65" height="86.50" fill="#fff" stroke="#1c1c1c" stroke-width="1.4" stroke-linejoin="round"/>
<text x="611.40" y="529.80" font-family="'Liberation Serif','DejaVu Serif',serif" font-style="italic" font-size="16">T<tspan font-style="normal" font-size="11.4" dy="3.4">10</tspan></text>
<path d="M590.10 542.10H611.90" stroke="#00ff00" stroke-width="1.8"/>
<text x="618.90" y="547.85" font-family="'DejaVu Sans','Liberation Sans',sans-serif" font-size="14.05" stroke="#000" stroke-width="0.18">270K</text>
<path d="M590.10 559.22H611.90" stroke="#22b255" stroke-width="1.6"/>
<text x="618.90" y="564.97" font-family="'DejaVu Sans','Liberation Sans',sans-serif" font-size="14.05" stroke="#000" stroke-width="0.18">290K</text>
<path d="M590.10 576.34H611.90" stroke="#4256ac" stroke-width="1.4"/>
<text x="618.90" y="582.09" font-family="'DejaVu Sans','Liberation Sans',sans-serif" font-size="14.05" stroke="#000" stroke-width="0.18">310K</text>
<path d="M590.10 593.46H611.90" stroke="#661aff" stroke-width="1.4"/>
<text x="618.90" y="599.21" font-family="'DejaVu Sans','Liberation Sans',sans-serif" font-size="14.05" stroke="#000" stroke-width="0.18">330K</text>
</g>
<g>
<g stroke="#000" stroke-width="0.9" stroke-dasharray="1.1 3.577" fill="none" opacity="0.74"><path d="M808.87 604.00V350.35M858.67 604.00V350.35M908.47 604.00V350.35M958.27 604.00V350.35" stroke-dashoffset="0.3"/><path d="M759.07 575.82H1008.07M759.07 547.63H1008.07M759.07 519.45H1008.07M759.07 491.27H1008.07M759.07 463.08H1008.07M759.07 434.90H1008.07M759.07 406.72H1008.07M759.07 378.53H1008.07" stroke-dashoffset="-0.3"/></g>
<polyline points="759.07,442.10 771.52,443.41 783.97,444.70 796.42,445.98 808.87,447.26 821.32,448.52 833.77,449.77 846.22,451.00 858.67,452.22 871.12,453.42 883.57,454.60 896.02,455.76 908.47,456.90 920.92,458.02 933.37,459.12 945.82,460.18 958.27,461.22 970.72,462.24 983.17,463.22 995.62,464.17 1008.07,465.09" stroke="#03f708" stroke-width="1.25" stroke-opacity="0.5" fill="none"/><polyline points="759.07,439.35 771.52,440.67 783.97,441.99 796.42,443.30 808.87,444.59 821.32,445.88 833.77,447.15 846.22,448.41 858.67,449.65 871.12,450.87 883.57,452.07 896.02,453.26 908.47,454.42 920.92,455.55 933.37,456.67 945.82,457.76 958.27,458.82 970.72,459.85 983.17,460.85 995.62,461.82 1008.07,462.76" stroke="#07f011" stroke-width="1.25" stroke-opacity="0.5" fill="none"/><polyline points="759.07,436.57 771.52,437.92 783.97,439.26 796.42,440.59 808.87,441.91 821.32,443.22 833.77,444.51 846.22,445.79 858.67,447.06 871.12,448.30 883.57,449.53 896.02,450.73 908.47,451.91 920.92,453.07 933.37,454.21 945.82,455.31 958.27,456.39 970.72,457.45 983.17,458.47 995.62,459.46 1008.07,460.41" stroke="#0ae81a" stroke-width="1.25" stroke-opacity="0.5" fill="none"/><polyline points="759.07,433.77 771.52,435.15 783.97,436.51 796.42,437.87 808.87,439.21 821.32,440.55 833.77,441.86 846.22,443.16 858.67,444.45 871.12,445.72 883.57,446.96 896.02,448.19 908.47,449.39 920.92,450.57 933.37,451.73 945.82,452.85 958.27,453.96 970.72,455.03 983.17,456.07 995.62,457.08 1008.07,458.05" stroke="#0ee022" stroke-width="1.25" stroke-opacity="0.5" fill="none"/><polyline points="759.07,430.96 771.52,432.36 783.97,433.75 796.42,435.13 808.87,436.50 821.32,437.85 833.77,439.19 846.22,440.52 858.67,441.82 871.12,443.11 883.57,444.38 896.02,445.63 908.47,446.85 920.92,448.06 933.37,449.23 945.82,450.38 958.27,451.50 970.72,452.59 983.17,453.65 995.62,454.68 1008.07,455.67" stroke="#11d82a" stroke-width="1.25" stroke-opacity="0.5" fill="none"/><polyline points="759.07,428.13 771.52,429.55 783.97,430.97 796.42,432.37 808.87,433.76 821.32,435.14 833.77,436.50 846.22,437.85 858.67,439.18 871.12,440.49 883.57,441.78 896.02,443.05 908.47,444.30 920.92,445.52 933.37,446.72 945.82,447.89 958.27,449.03 970.72,450.14 983.17,451.22 995.62,452.27 1008.07,453.28" stroke="#14d133" stroke-width="1.25" stroke-opacity="0.5" fill="none"/><polyline points="759.07,425.27 771.52,426.72 783.97,428.16 796.42,429.59 808.87,431.01 821.32,432.41 833.77,433.80 846.22,435.17 858.67,436.52 871.12,437.86 883.57,439.17 896.02,440.46 908.47,441.73 920.92,442.97 933.37,444.19 945.82,445.38 958.27,446.54 970.72,447.67 983.17,448.77 995.62,449.84 1008.07,450.87" stroke="#18c93b" stroke-width="1.25" stroke-opacity="0.5" fill="none"/><polyline points="759.07,422.40 771.52,423.88 783.97,425.35 796.42,426.80 808.87,428.24 821.32,429.67 833.77,431.08 846.22,432.47 858.67,433.85 871.12,435.20 883.57,436.54 896.02,437.85 908.47,439.14 920.92,440.41 933.37,441.65 945.82,442.86 958.27,444.04 970.72,445.19 983.17,446.31 995.62,447.40 1008.07,448.45" stroke="#1bc144" stroke-width="1.25" stroke-opacity="0.5" fill="none"/><polyline points="759.07,419.52 771.52,421.02 783.97,422.51 796.42,423.99 808.87,425.45 821.32,426.90 833.77,428.34 846.22,429.75 858.67,431.15 871.12,432.53 883.57,433.89 896.02,435.22 908.47,436.54 920.92,437.82 933.37,439.08 945.82,440.32 958.27,441.52 970.72,442.69 983.17,443.83 995.62,444.94 1008.07,446.01" stroke="#1fba4c" stroke-width="1.25" stroke-opacity="0.5" fill="none"/><polyline points="759.07,413.68 771.52,415.24 783.97,416.78 796.42,418.30 808.87,419.82 821.32,421.32 833.77,422.80 846.22,424.27 858.67,425.71 871.12,427.14 883.57,428.54 896.02,429.92 908.47,431.28 920.92,432.61 933.37,433.91 945.82,435.19 958.27,436.43 970.72,437.65 983.17,438.83 995.62,439.97 1008.07,441.09" stroke="#25a95e" stroke-width="1.25" stroke-opacity="0.5" fill="none"/><polyline points="759.07,410.74 771.52,412.32 783.97,413.88 796.42,415.44 808.87,416.98 821.32,418.50 833.77,420.01 846.22,421.50 858.67,422.97 871.12,424.41 883.57,425.84 896.02,427.24 908.47,428.62 920.92,429.98 933.37,431.30 945.82,432.60 958.27,433.86 970.72,435.10 983.17,436.30 995.62,437.47 1008.07,438.60" stroke="#28a066" stroke-width="1.25" stroke-opacity="0.5" fill="none"/><polyline points="759.07,407.77 771.52,409.38 783.97,410.97 796.42,412.55 808.87,414.12 821.32,415.67 833.77,417.20 846.22,418.71 858.67,420.20 871.12,421.68 883.57,423.13 896.02,424.55 908.47,425.95 920.92,427.33 933.37,428.67 945.82,429.99 958.27,431.28 970.72,432.54 983.17,433.76 995.62,434.95 1008.07,436.10" stroke="#2c966f" stroke-width="1.25" stroke-opacity="0.5" fill="none"/><polyline points="759.07,404.79 771.52,406.42 783.97,408.04 796.42,409.65 808.87,411.24 821.32,412.81 833.77,414.37 846.22,415.91 858.67,417.42 871.12,418.92 883.57,420.39 896.02,421.84 908.47,423.26 920.92,424.66 933.37,426.03 945.82,427.37 958.27,428.68 970.72,429.96 983.17,431.20 995.62,432.41 1008.07,433.58" stroke="#2f8d78" stroke-width="1.25" stroke-opacity="0.5" fill="none"/><polyline points="759.07,401.79 771.52,403.45 783.97,405.10 796.42,406.73 808.87,408.34 821.32,409.94 833.77,411.52 846.22,413.08 858.67,414.62 871.12,416.14 883.57,417.64 896.02,419.11 908.47,420.56 920.92,421.98 933.37,423.37 945.82,424.73 958.27,426.06 970.72,427.36 983.17,428.63 995.62,429.86 1008.07,431.05" stroke="#328480" stroke-width="1.25" stroke-opacity="0.5" fill="none"/><polyline points="759.07,398.77 771.52,400.46 783.97,402.13 796.42,403.79 808.87,405.43 821.32,407.05 833.77,408.66 846.22,410.24 858.67,411.81 871.12,413.35 883.57,414.87 896.02,416.37 908.47,417.84 920.92,419.28 933.37,420.69 945.82,422.08 958.27,423.43 970.72,424.75 983.17,426.04 995.62,427.29 1008.07,428.50" stroke="#357b89" stroke-width="1.25" stroke-opacity="0.5" fill="none"/><polyline points="759.07,395.74 771.52,397.45 783.97,399.15 796.42,400.83 808.87,402.50 821.32,404.15 833.77,405.78 846.22,407.39 858.67,408.98 871.12,410.54 883.57,412.09 896.02,413.61 908.47,415.10 920.92,416.57 933.37,418.00 945.82,419.41 958.27,420.78 970.72,422.12 983.17,423.43 995.62,424.70 1008.07,425.94" stroke="#387292" stroke-width="1.25" stroke-opacity="0.5" fill="none"/><polyline points="759.07,392.68 771.52,394.42 783.97,396.14 796.42,397.85 808.87,399.55 821.32,401.22 833.77,402.88 846.22,404.51 858.67,406.13 871.12,407.72 883.57,409.29 896.02,410.83 908.47,412.35 920.92,413.83 933.37,415.29 945.82,416.72 958.27,418.12 970.72,419.48 983.17,420.81 995.62,422.10 1008.07,423.36" stroke="#3c689b" stroke-width="1.25" stroke-opacity="0.5" fill="none"/><polyline points="759.07,389.60 771.52,391.37 783.97,393.12 796.42,394.86 808.87,396.58 821.32,398.28 833.77,399.96 846.22,401.62 858.67,403.26 871.12,404.88 883.57,406.47 896.02,408.03 908.47,409.57 920.92,411.08 933.37,412.57 945.82,414.02 958.27,415.44 970.72,416.82 983.17,418.17 995.62,419.49 1008.07,420.76" stroke="#3f5fa3" stroke-width="1.25" stroke-opacity="0.5" fill="none"/><polyline points="759.07,383.40 771.52,385.22 783.97,387.03 796.42,388.82 808.87,390.59 821.32,392.34 833.77,394.07 846.22,395.78 858.67,397.47 871.12,399.14 883.57,400.78 896.02,402.39 908.47,403.98 920.92,405.54 933.37,407.07 945.82,408.56 958.27,410.03 970.72,411.45 983.17,412.85 995.62,414.21 1008.07,415.53" stroke="#4650b4" stroke-width="1.25" stroke-opacity="0.5" fill="none"/><polyline points="759.07,380.27 771.52,382.12 783.97,383.95 796.42,385.77 808.87,387.57 821.32,389.34 833.77,391.10 846.22,392.84 858.67,394.56 871.12,396.25 883.57,397.91 896.02,399.55 908.47,401.16 920.92,402.74 933.37,404.29 945.82,405.81 958.27,407.30 970.72,408.75 983.17,410.16 995.62,411.54 1008.07,412.88" stroke="#494abd" stroke-width="1.25" stroke-opacity="0.5" fill="none"/><polyline points="759.07,377.12 771.52,379.00 783.97,380.86 796.42,382.70 808.87,384.53 821.32,386.33 833.77,388.12 846.22,389.88 858.67,391.62 871.12,393.33 883.57,395.02 896.02,396.69 908.47,398.32 920.92,399.93 933.37,401.50 945.82,403.04 958.27,404.55 970.72,406.02 983.17,407.46 995.62,408.86 1008.07,410.23" stroke="#4d44c5" stroke-width="1.25" stroke-opacity="0.5" fill="none"/><polyline points="759.07,373.95 771.52,375.86 783.97,377.74 796.42,379.62 808.87,381.47 821.32,383.30 833.77,385.11 846.22,386.90 858.67,388.67 871.12,390.41 883.57,392.12 896.02,393.81 908.47,395.47 920.92,397.09 933.37,398.69 945.82,400.26 958.27,401.79 970.72,403.29 983.17,404.75 995.62,406.17 1008.07,407.55" stroke="#503ecd" stroke-width="1.25" stroke-opacity="0.5" fill="none"/><polyline points="759.07,370.76 771.52,372.70 783.97,374.61 796.42,376.51 808.87,378.39 821.32,380.25 833.77,382.09 846.22,383.90 858.67,385.69 871.12,387.46 883.57,389.20 896.02,390.91 908.47,392.59 920.92,394.25 933.37,395.87 945.82,397.46 958.27,399.01 970.72,400.53 983.17,402.01 995.62,403.46 1008.07,404.86" stroke="#5438d6" stroke-width="1.25" stroke-opacity="0.5" fill="none"/><polyline points="759.07,367.56 771.52,369.52 783.97,371.47 796.42,373.39 808.87,375.30 821.32,377.18 833.77,379.05 846.22,380.89 858.67,382.71 871.12,384.50 883.57,386.26 896.02,388.00 908.47,389.71 920.92,391.38 933.37,393.03 945.82,394.64 958.27,396.22 970.72,397.76 983.17,399.26 995.62,400.73 1008.07,402.16" stroke="#5832de" stroke-width="1.25" stroke-opacity="0.5" fill="none"/><polyline points="759.07,364.33 771.52,366.32 783.97,368.30 796.42,370.25 808.87,372.19 821.32,374.10 833.77,375.99 846.22,377.86 858.67,379.70 871.12,381.52 883.57,383.31 896.02,385.07 908.47,386.80 920.92,388.50 933.37,390.17 945.82,391.81 958.27,393.41 970.72,394.97 983.17,396.50 995.62,397.99 1008.07,399.44" stroke="#5b2ce6" stroke-width="1.25" stroke-opacity="0.5" fill="none"/><polyline points="759.07,361.09 771.52,363.11 783.97,365.11 796.42,367.09 808.87,369.06 821.32,371.00 833.77,372.91 846.22,374.81 858.67,376.68 871.12,378.52 883.57,380.33 896.02,382.12 908.47,383.88 920.92,385.60 933.37,387.30 945.82,388.96 958.27,390.58 970.72,392.17 983.17,393.72 995.62,395.23 1008.07,396.70" stroke="#5f26ee" stroke-width="1.25" stroke-opacity="0.5" fill="none"/><polyline points="759.07,357.83 771.52,359.88 783.97,361.91 796.42,363.92 808.87,365.91 821.32,367.88 833.77,369.82 846.22,371.74 858.67,373.64 871.12,375.51 883.57,377.35 896.02,379.16 908.47,380.94 920.92,382.69 933.37,384.41 945.82,386.09 958.27,387.74 970.72,389.35 983.17,390.92 995.62,392.46 1008.07,393.95" stroke="#6220f7" stroke-width="1.25" stroke-opacity="0.5" fill="none"/>
<polyline points="759.07,444.84 771.52,446.12 783.97,447.39 796.42,448.65 808.87,449.90 821.32,451.14 833.77,452.37 846.22,453.58 858.67,454.77 871.12,455.95 883.57,457.11 896.02,458.25 908.47,459.37 920.92,460.47 933.37,461.55 945.82,462.59 958.27,463.61 970.72,464.61 983.17,465.57 995.62,466.50 1008.07,467.40" stroke="#00ff00" stroke-width="1.6" fill="none"/><polyline points="759.07,416.61 771.52,418.14 783.97,419.65 796.42,421.15 808.87,422.64 821.32,424.12 833.77,425.58 846.22,427.02 858.67,428.44 871.12,429.84 883.57,431.22 896.02,432.58 908.47,433.92 920.92,435.22 933.37,436.51 945.82,437.76 958.27,438.98 970.72,440.18 983.17,441.34 995.62,442.46 1008.07,443.56" stroke="#22b255" stroke-width="1.25" fill="none"/><polyline points="759.07,386.51 771.52,388.30 783.97,390.08 796.42,391.85 808.87,393.59 821.32,395.32 833.77,397.03 846.22,398.71 858.67,400.38 871.12,402.02 883.57,403.63 896.02,405.22 908.47,406.79 920.92,408.32 933.37,409.82 945.82,411.30 958.27,412.74 970.72,414.15 983.17,415.52 995.62,416.85 1008.07,418.15" stroke="#4256ac" stroke-width="1.25" fill="none"/><polyline points="759.07,354.55 771.52,356.63 783.97,358.69 796.42,360.73 808.87,362.74 821.32,364.74 833.77,366.71 846.22,368.66 858.67,370.58 871.12,372.47 883.57,374.34 896.02,376.18 908.47,377.98 920.92,379.76 933.37,381.50 945.82,383.21 958.27,384.88 970.72,386.51 983.17,388.11 995.62,389.67 1008.07,391.19" stroke="#661aff" stroke-width="1.25" fill="none"/>
<path d="M808.87 604.00v-5.3M808.87 350.35v5.3M858.67 604.00v-5.3M858.67 350.35v5.3M908.47 604.00v-5.3M908.47 350.35v5.3M958.27 604.00v-5.3M958.27 350.35v5.3M759.07 575.82h5.3M1008.07 575.82h-5.3M759.07 547.63h5.3M1008.07 547.63h-5.3M759.07 519.45h5.3M1008.07 519.45h-5.3M759.07 491.27h5.3M1008.07 491.27h-5.3M759.07 463.08h5.3M1008.07 463.08h-5.3M759.07 434.90h5.3M1008.07 434.90h-5.3M759.07 406.72h5.3M1008.07 406.72h-5.3M759.07 378.53h5.3M1008.07 378.53h-5.3" stroke="#000" stroke-width="0.65" fill="none"/>
<g font-family="'DejaVu Sans','Liberation Sans',sans-serif" font-size="14.05" fill="#000" stroke="#000" stroke-width="0.18">
<text x="754.87" y="609.15" text-anchor="end">0.00</text>
<text x="754.87" y="580.88" text-anchor="end">0.05</text>
<text x="754.87" y="552.61" text-anchor="end">0.10</text>
<text x="754.87" y="524.33" text-anchor="end">0.15</text>
<text x="754.87" y="496.06" text-anchor="end">0.20</text>
<text x="754.87" y="467.79" text-anchor="end">0.25</text>
<text x="754.87" y="439.52" text-anchor="end">0.30</text>
<text x="754.87" y="411.24" text-anchor="end">0.35</text>
<text x="754.87" y="382.97" text-anchor="end">0.40</text>
<text x="754.87" y="354.70" text-anchor="end">0.45</text>
<text x="759.07" y="619.10" text-anchor="middle">0.90</text>
<text x="808.87" y="619.10" text-anchor="middle">0.92</text>
<text x="858.67" y="619.10" text-anchor="middle">0.94</text>
<text x="908.47" y="619.10" text-anchor="middle">0.96</text>
<text x="958.27" y="619.10" text-anchor="middle">0.98</text>
<text x="1008.07" y="619.10" text-anchor="middle">1.00</text>
</g>
<text transform="translate(884.27 638.25) scale(1.085 1)" text-anchor="middle" font-family="'Liberation Serif','DejaVu Serif',serif" font-style="italic" font-size="19.3" letter-spacing="0.35">LSE</text>
<text transform="translate(713.97 530.88) rotate(-90)" font-family="'Liberation Serif','DejaVu Serif',serif" font-style="italic" font-size="18.8"><tspan x="0 11 22">LST</tspan> <tspan x="39.1 47.9 55.7 63.5 71.6">error</tspan><tspan x="79.9" dy="1.2" font-style="normal">(</tspan><tspan x="88.3" dy="-1.2">K</tspan><tspan x="101.6" dy="1.2" font-style="normal">)</tspan></text>
<rect x="759.07" y="584.10" width="88.9" height="19.90" fill="#fff" stroke="#444" stroke-width="1.0"/>
<text x="761.57" y="597.50" font-family="'Liberation Serif','DejaVu Serif',serif" font-style="italic" font-size="15.5">T<tspan font-style="normal" font-size="10.7" dy="3.4">10</tspan><tspan font-style="normal" font-family="'DejaVu Sans Light','DejaVu Sans',sans-serif" font-weight="200" font-size="15" dy="-3.7" dx="-1.5">−</tspan><tspan dx="-2.0" dy="0.3">T</tspan><tspan font-style="normal" font-size="10.7" dy="3.4">11</tspan></text>
<text transform="translate(817.47 598.10) scale(1.4 1)" text-anchor="middle" font-family="'Liberation Serif','DejaVu Serif',serif" font-size="15">=</text>
<text transform="translate(823.07 597.50) scale(1.1 1)" font-family="'DejaVu Sans','Liberation Sans',sans-serif" font-size="14.6">3</text>
<text transform="translate(833.07 597.50) scale(1.13 1)" font-family="'Liberation Serif','DejaVu Serif',serif" font-style="italic" font-size="15.2">K</text>
<rect x="759.07" y="350.35" width="249.00" height="253.65" fill="none" stroke="#111" stroke-width="1.45"/>
<rect x="931.92" y="515.70" width="74.65" height="86.50" fill="#fff" stroke="#1c1c1c" stroke-width="1.4" stroke-linejoin="round"/>
<text x="960.17" y="529.80" font-family="'Liberation Serif','DejaVu Serif',serif" font-style="italic" font-size="16">T<tspan font-style="normal" font-size="11.4" dy="3.4">10</tspan></text>
<path d="M938.87 542.10H960.67" stroke="#00ff00" stroke-width="1.8"/>
<text x="967.67" y="547.85" font-family="'DejaVu Sans','Liberation Sans',sans-serif" font-size="14.05" stroke="#000" stroke-width="0.18">270K</text>
<path d="M938.87 559.22H960.67" stroke="#22b255" stroke-width="1.6"/>
<text x="967.67" y="564.97" font-family="'DejaVu Sans','Liberation Sans',sans-serif" font-size="14.05" stroke="#000" stroke-width="0.18">290K</text>
<path d="M938.87 576.34H960.67" stroke="#4256ac" stroke-width="1.4"/>
<text x="967.67" y="582.09" font-family="'DejaVu Sans','Liberation Sans',sans-serif" font-size="14.05" stroke="#000" stroke-width="0.18">310K</text>
<path d="M938.87 593.46H960.67" stroke="#661aff" stroke-width="1.4"/>
<text x="967.67" y="599.21" font-family="'DejaVu Sans','Liberation Sans',sans-serif" font-size="14.05" stroke="#000" stroke-width="0.18">330K</text>
</g>
<text x="510.80" y="672.20" text-anchor="middle" font-family="'Liberation Serif','DejaVu Serif',serif" font-size="26.5">(<tspan font-weight="bold">B</tspan>)</text>
</svg>
</body></html>
